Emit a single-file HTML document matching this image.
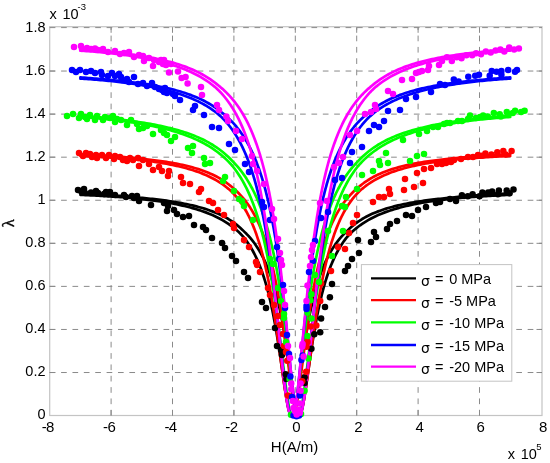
<!DOCTYPE html>
<html><head><meta charset="utf-8"><style>
html,body{margin:0;padding:0;background:#fff;}
svg{display:block;}
</style></head><body>
<svg width="550" height="463" viewBox="0 0 550 463">
<rect width="550" height="463" fill="#fff"/>
<rect x="49.70" y="26.70" width="492.30" height="388.80" fill="none" stroke="#c4c4c4" stroke-width="1.2"/><path d="M111.10,415.50 v-5.5 M111.10,27.30 v5.5 M172.50,415.50 v-5.5 M172.50,27.30 v5.5 M233.90,415.50 v-5.5 M233.90,27.30 v5.5 M295.30,415.50 v-5.5 M295.30,27.30 v5.5 M356.70,415.50 v-5.5 M356.70,27.30 v5.5 M418.10,415.50 v-5.5 M418.10,27.30 v5.5 M479.50,415.50 v-5.5 M479.50,27.30 v5.5 M49.70,372.53 h5.5 M542.00,372.53 h-5.5 M49.70,329.46 h5.5 M542.00,329.46 h-5.5 M49.70,286.39 h5.5 M542.00,286.39 h-5.5 M49.70,243.32 h5.5 M542.00,243.32 h-5.5 M49.70,200.25 h5.5 M542.00,200.25 h-5.5 M49.70,157.18 h5.5 M542.00,157.18 h-5.5 M49.70,114.11 h5.5 M542.00,114.11 h-5.5 M49.70,71.04 h5.5 M542.00,71.04 h-5.5" stroke="#8a8a8a" stroke-width="1" fill="none"/>
<path d="M111.10,415.50 V27.30 M172.50,415.50 V27.30 M233.90,415.50 V27.30 M295.30,415.50 V27.30 M356.70,415.50 V27.30 M418.10,415.50 V27.30 M479.50,415.50 V27.30" stroke="#8a8a8a" stroke-width="1" stroke-dasharray="5.7,5.64" fill="none"/><path d="M49.70,372.53 H542.00 M49.70,329.46 H542.00 M49.70,286.39 H542.00 M49.70,243.32 H542.00 M49.70,200.25 H542.00 M49.70,157.18 H542.00 M49.70,114.11 H542.00 M49.70,71.04 H542.00 M49.70,27.60 H542.00" stroke="#8a8a8a" stroke-width="1" stroke-dasharray="5.69,5.69" fill="none"/>
<g fill="none" stroke-width="2.7" stroke-linejoin="round" stroke-linecap="round"><path d="M80.40,194.81 L82.40,194.90 L84.40,194.99 L86.40,195.09 L88.40,195.18 L90.40,195.28 L92.40,195.38 L94.40,195.49 L96.41,195.59 L98.41,195.70 L100.41,195.81 L102.41,195.93 L104.41,196.04 L106.41,196.17 L108.41,196.29 L110.41,196.42 L112.41,196.55 L114.41,196.68 L116.41,196.82 L118.41,196.96 L120.41,197.10 L122.41,197.25 L124.41,197.41 L126.42,197.56 L128.42,197.73 L130.42,197.89 L132.42,198.07 L134.42,198.24 L136.42,198.43 L138.42,198.62 L140.42,198.84 L142.42,199.07 L144.42,199.30 L146.42,199.55 L148.42,199.79 L150.42,200.05 L152.42,200.31 L154.42,200.59 L156.43,200.87 L158.43,201.16 L160.43,201.46 L162.43,201.77 L164.43,202.09 L166.43,202.42 L168.43,202.77 L170.43,203.13 L172.43,203.50 L174.43,203.88 L176.43,204.28 L178.43,204.69 L180.43,205.12 L182.43,205.56 L184.44,206.03 L186.44,206.51 L188.44,207.01 L190.44,207.53 L192.44,208.08 L194.44,208.65 L196.44,209.24 L198.44,209.86 L200.44,210.50 L202.44,211.18 L204.44,211.89 L206.44,212.63 L208.44,213.41 L210.44,214.23 L212.44,215.09 L214.45,215.99 L216.45,216.94 L218.45,217.94 L220.45,219.00 L222.45,220.11 L224.45,221.30 L226.45,222.55 L228.45,223.87 L230.45,225.28 L232.45,226.78 L234.45,228.35 L236.45,229.99 L238.45,231.77 L240.45,233.72 L242.45,235.84 L244.46,238.18 L246.46,240.83 L248.46,243.70 L250.46,246.84 L252.46,250.25 L254.46,254.00 L256.46,258.10 L258.46,262.61 L258.79,263.40 L259.12,264.21 L259.46,265.03 L259.79,265.86 L260.12,266.70 L260.45,267.56 L260.78,268.43 L261.11,269.32 L261.45,270.22 L261.78,271.14 L262.11,272.07 L262.44,273.02 L262.77,273.99 L263.11,274.97 L263.44,275.97 L263.77,276.98 L264.10,278.01 L264.43,279.06 L264.76,280.13 L265.10,281.22 L265.43,282.33 L265.76,283.45 L266.09,284.60 L266.42,285.76 L266.76,286.95 L267.09,288.15 L267.42,289.38 L267.75,290.63 L268.08,291.90 L268.41,293.19 L268.75,294.51 L269.08,295.84 L269.41,297.21 L269.74,298.59 L270.07,300.00 L270.41,301.44 L270.74,302.90 L271.07,304.38 L271.40,305.89 L271.73,307.43 L272.06,308.99 L272.40,310.59 L272.73,312.20 L273.06,313.85 L273.39,315.52 L273.72,317.22 L274.05,318.95 L274.39,320.71 L274.72,322.50 L275.05,324.31 L275.38,326.15 L275.71,328.03 L276.05,329.93 L276.38,331.86 L276.71,333.82 L277.04,335.81 L277.37,337.82 L277.70,339.86 L278.04,341.93 L278.37,344.03 L278.70,346.15 L279.03,348.30 L279.36,350.47 L279.70,352.67 L280.03,354.89 L280.36,357.12 L280.69,359.38 L281.02,361.65 L281.35,363.94 L281.69,366.24 L282.02,368.55 L282.35,370.86 L282.68,373.18 L283.01,375.50 L283.35,377.82 L283.68,380.13 L284.01,382.43 L284.34,384.71 L284.67,386.97 L285.00,389.20 L285.34,391.40 L285.67,393.55 L286.00,395.66 L286.33,397.71 L286.66,399.70 L287.00,401.62 L287.33,403.45 L287.66,405.20 L287.99,406.85 L288.32,408.38 L288.65,409.80 L288.99,411.09 L289.32,412.23 L289.65,413.23 L289.98,414.06 L290.31,414.73 L290.65,415.21 L290.98,415.50 L291.31,415.60 L292.84,415.60 L293.24,415.38 L293.64,414.76 L294.03,413.75 L294.43,412.42 L294.83,410.78 L295.23,408.89 L295.62,406.78 L296.02,404.48 L296.42,402.02 L296.81,399.42 L297.21,396.72 L297.61,393.93 L298.00,391.07 L298.40,388.17 L298.80,385.22 L299.19,382.26 L299.59,379.28 L299.99,376.31 L300.39,373.34 L300.78,370.39 L301.18,367.46 L301.58,364.55 L301.97,361.68 L302.37,358.84 L302.77,356.05 L303.16,353.29 L303.56,350.58 L303.96,347.91 L304.35,345.29 L304.75,342.71 L305.15,340.18 L305.55,337.71 L305.94,335.27 L306.34,332.89 L306.74,330.56 L307.13,328.27 L307.53,326.03 L307.93,323.84 L308.32,321.70 L308.72,319.60 L309.12,317.54 L309.52,315.53 L309.91,313.56 L310.31,311.64 L310.71,309.76 L311.10,307.91 L311.50,306.11 L311.90,304.35 L312.29,302.62 L312.69,300.93 L313.09,299.28 L313.48,297.67 L313.88,296.09 L314.28,294.54 L314.68,293.03 L315.07,291.54 L315.47,290.09 L315.87,288.67 L316.26,287.29 L316.66,285.92 L317.06,284.59 L317.45,283.29 L317.85,282.01 L318.25,280.76 L318.64,279.53 L319.04,278.33 L319.44,277.16 L319.84,276.00 L320.23,274.87 L320.63,273.77 L321.03,272.68 L321.42,271.62 L321.82,270.57 L322.22,269.55 L322.61,268.55 L323.01,267.56 L323.41,266.60 L323.80,265.65 L324.20,264.72 L324.60,263.81 L325.00,262.92 L325.39,262.04 L325.79,261.18 L326.19,260.33 L326.58,259.50 L326.98,258.68 L327.38,257.88 L327.77,257.10 L328.17,256.32 L328.57,255.57 L328.96,254.82 L329.36,254.09 L329.76,253.37 L330.16,252.66 L330.55,251.97 L330.95,251.28 L331.35,250.61 L331.74,249.95 L332.14,249.30 L334.14,246.18 L336.14,243.31 L338.14,240.66 L340.14,238.21 L342.14,235.93 L344.14,233.82 L346.14,231.84 L348.15,229.90 L350.15,228.06 L352.15,226.30 L354.15,224.63 L356.15,223.05 L358.15,221.61 L360.15,220.28 L362.15,219.04 L364.15,217.87 L366.15,216.77 L368.15,215.74 L370.15,214.77 L372.15,213.85 L374.15,212.98 L376.15,212.16 L378.16,211.38 L380.16,210.65 L382.16,209.95 L384.16,209.28 L386.16,208.65 L388.16,208.05 L390.16,207.47 L392.16,206.93 L394.16,206.40 L396.16,205.91 L398.16,205.43 L400.16,204.97 L402.16,204.53 L404.16,204.11 L406.16,203.71 L408.17,203.32 L410.17,202.95 L412.17,202.59 L414.17,202.25 L416.17,201.92 L418.17,201.60 L420.17,201.29 L422.17,200.99 L424.17,200.71 L426.17,200.43 L428.17,200.16 L430.17,199.91 L432.17,199.66 L434.17,199.42 L436.18,199.18 L438.18,198.96 L440.18,198.74 L442.18,198.52 L444.18,198.32 L446.18,198.12 L448.18,197.92 L450.18,197.73 L452.18,197.55 L454.18,197.35 L456.18,197.16 L458.18,196.96 L460.18,196.78 L462.18,196.59 L464.18,196.42 L466.19,196.24 L468.19,196.07 L470.19,195.91 L472.19,195.75 L474.19,195.59 L476.19,195.44 L478.19,195.29 L480.19,195.14 L482.19,195.00 L484.19,194.86 L486.19,194.72 L488.19,194.59 L490.19,194.46 L492.19,194.33 L494.19,194.21 L496.20,194.08 L498.20,193.96 L500.20,193.85 L502.20,193.73 L504.20,193.62 L506.20,193.51 L508.20,193.40 L510.20,193.30" stroke="#000000" /><path d="M510.20,194.81 L508.20,194.90 L506.20,194.99 L504.20,195.09 L502.20,195.18 L500.20,195.28 L498.20,195.38 L496.20,195.49 L494.19,195.59 L492.19,195.70 L490.19,195.81 L488.19,195.93 L486.19,196.04 L484.19,196.17 L482.19,196.29 L480.19,196.42 L478.19,196.55 L476.19,196.68 L474.19,196.82 L472.19,196.96 L470.19,197.10 L468.19,197.25 L466.19,197.41 L464.18,197.56 L462.18,197.73 L460.18,197.89 L458.18,198.07 L456.18,198.24 L454.18,198.43 L452.18,198.62 L450.18,198.84 L448.18,199.07 L446.18,199.30 L444.18,199.55 L442.18,199.79 L440.18,200.05 L438.18,200.31 L436.18,200.59 L434.17,200.87 L432.17,201.16 L430.17,201.46 L428.17,201.77 L426.17,202.09 L424.17,202.42 L422.17,202.77 L420.17,203.13 L418.17,203.50 L416.17,203.88 L414.17,204.28 L412.17,204.69 L410.17,205.12 L408.17,205.56 L406.16,206.03 L404.16,206.51 L402.16,207.01 L400.16,207.53 L398.16,208.08 L396.16,208.65 L394.16,209.24 L392.16,209.86 L390.16,210.50 L388.16,211.18 L386.16,211.89 L384.16,212.63 L382.16,213.41 L380.16,214.23 L378.16,215.09 L376.15,215.99 L374.15,216.94 L372.15,217.94 L370.15,219.00 L368.15,220.11 L366.15,221.30 L364.15,222.55 L362.15,223.87 L360.15,225.28 L358.15,226.78 L356.15,228.35 L354.15,229.99 L352.15,231.77 L350.15,233.72 L348.15,235.84 L346.14,238.18 L344.14,240.83 L342.14,243.70 L340.14,246.84 L338.14,250.25 L336.14,254.00 L334.14,258.10 L332.14,262.61 L331.81,263.40 L331.48,264.21 L331.14,265.03 L330.81,265.86 L330.48,266.70 L330.15,267.56 L329.82,268.43 L329.49,269.32 L329.15,270.22 L328.82,271.14 L328.49,272.07 L328.16,273.02 L327.83,273.99 L327.49,274.97 L327.16,275.97 L326.83,276.98 L326.50,278.01 L326.17,279.06 L325.84,280.13 L325.50,281.22 L325.17,282.33 L324.84,283.45 L324.51,284.60 L324.18,285.76 L323.84,286.95 L323.51,288.15 L323.18,289.38 L322.85,290.63 L322.52,291.90 L322.19,293.19 L321.85,294.51 L321.52,295.84 L321.19,297.21 L320.86,298.59 L320.53,300.00 L320.19,301.44 L319.86,302.90 L319.53,304.38 L319.20,305.89 L318.87,307.43 L318.54,308.99 L318.20,310.59 L317.87,312.20 L317.54,313.85 L317.21,315.52 L316.88,317.22 L316.55,318.95 L316.21,320.71 L315.88,322.50 L315.55,324.31 L315.22,326.15 L314.89,328.03 L314.55,329.93 L314.22,331.86 L313.89,333.82 L313.56,335.81 L313.23,337.82 L312.90,339.86 L312.56,341.93 L312.23,344.03 L311.90,346.15 L311.57,348.30 L311.24,350.47 L310.90,352.67 L310.57,354.89 L310.24,357.12 L309.91,359.38 L309.58,361.65 L309.25,363.94 L308.91,366.24 L308.58,368.55 L308.25,370.86 L307.92,373.18 L307.59,375.50 L307.25,377.82 L306.92,380.13 L306.59,382.43 L306.26,384.71 L305.93,386.97 L305.60,389.20 L305.26,391.40 L304.93,393.55 L304.60,395.66 L304.27,397.71 L303.94,399.70 L303.60,401.62 L303.27,403.45 L302.94,405.20 L302.61,406.85 L302.28,408.38 L301.95,409.80 L301.61,411.09 L301.28,412.23 L300.95,413.23 L300.62,414.06 L300.29,414.73 L299.95,415.21 L299.62,415.50 L299.29,415.60 L297.76,415.60 L297.36,415.38 L296.96,414.76 L296.57,413.75 L296.17,412.42 L295.77,410.78 L295.37,408.89 L294.98,406.78 L294.58,404.48 L294.18,402.02 L293.79,399.42 L293.39,396.72 L292.99,393.93 L292.60,391.07 L292.20,388.17 L291.80,385.22 L291.41,382.26 L291.01,379.28 L290.61,376.31 L290.21,373.34 L289.82,370.39 L289.42,367.46 L289.02,364.55 L288.63,361.68 L288.23,358.84 L287.83,356.05 L287.44,353.29 L287.04,350.58 L286.64,347.91 L286.25,345.29 L285.85,342.71 L285.45,340.18 L285.05,337.71 L284.66,335.27 L284.26,332.89 L283.86,330.56 L283.47,328.27 L283.07,326.03 L282.67,323.84 L282.28,321.70 L281.88,319.60 L281.48,317.54 L281.08,315.53 L280.69,313.56 L280.29,311.64 L279.89,309.76 L279.50,307.91 L279.10,306.11 L278.70,304.35 L278.31,302.62 L277.91,300.93 L277.51,299.28 L277.12,297.67 L276.72,296.09 L276.32,294.54 L275.92,293.03 L275.53,291.54 L275.13,290.09 L274.73,288.67 L274.34,287.29 L273.94,285.92 L273.54,284.59 L273.15,283.29 L272.75,282.01 L272.35,280.76 L271.96,279.53 L271.56,278.33 L271.16,277.16 L270.76,276.00 L270.37,274.87 L269.97,273.77 L269.57,272.68 L269.18,271.62 L268.78,270.57 L268.38,269.55 L267.99,268.55 L267.59,267.56 L267.19,266.60 L266.80,265.65 L266.40,264.72 L266.00,263.81 L265.60,262.92 L265.21,262.04 L264.81,261.18 L264.41,260.33 L264.02,259.50 L263.62,258.68 L263.22,257.88 L262.83,257.10 L262.43,256.32 L262.03,255.57 L261.64,254.82 L261.24,254.09 L260.84,253.37 L260.44,252.66 L260.05,251.97 L259.65,251.28 L259.25,250.61 L258.86,249.95 L258.46,249.30 L256.46,246.18 L254.46,243.31 L252.46,240.66 L250.46,238.21 L248.46,235.93 L246.46,233.82 L244.46,231.84 L242.45,229.90 L240.45,228.06 L238.45,226.30 L236.45,224.63 L234.45,223.05 L232.45,221.61 L230.45,220.28 L228.45,219.04 L226.45,217.87 L224.45,216.77 L222.45,215.74 L220.45,214.77 L218.45,213.85 L216.45,212.98 L214.45,212.16 L212.44,211.38 L210.44,210.65 L208.44,209.95 L206.44,209.28 L204.44,208.65 L202.44,208.05 L200.44,207.47 L198.44,206.93 L196.44,206.40 L194.44,205.91 L192.44,205.43 L190.44,204.97 L188.44,204.53 L186.44,204.11 L184.44,203.71 L182.43,203.32 L180.43,202.95 L178.43,202.59 L176.43,202.25 L174.43,201.92 L172.43,201.60 L170.43,201.29 L168.43,200.99 L166.43,200.71 L164.43,200.43 L162.43,200.16 L160.43,199.91 L158.43,199.66 L156.43,199.42 L154.42,199.18 L152.42,198.96 L150.42,198.74 L148.42,198.52 L146.42,198.32 L144.42,198.12 L142.42,197.92 L140.42,197.73 L138.42,197.55 L136.42,197.35 L134.42,197.16 L132.42,196.96 L130.42,196.78 L128.42,196.59 L126.42,196.42 L124.41,196.24 L122.41,196.07 L120.41,195.91 L118.41,195.75 L116.41,195.59 L114.41,195.44 L112.41,195.29 L110.41,195.14 L108.41,195.00 L106.41,194.86 L104.41,194.72 L102.41,194.59 L100.41,194.46 L98.41,194.33 L96.41,194.21 L94.40,194.08 L92.40,193.96 L90.40,193.85 L88.40,193.73 L86.40,193.62 L84.40,193.51 L82.40,193.40 L80.40,193.30" stroke="#000000" /><path d="M80.40,155.94 L82.40,156.03 L84.40,156.12 L86.40,156.21 L88.40,156.31 L90.40,156.41 L92.40,156.51 L94.40,156.61 L96.41,156.72 L98.41,156.83 L100.41,156.94 L102.41,157.05 L104.41,157.17 L106.41,157.29 L108.41,157.42 L110.41,157.55 L112.41,157.68 L114.41,157.82 L116.41,157.96 L118.41,158.10 L120.41,158.25 L122.41,158.41 L124.41,158.56 L126.42,158.73 L128.42,158.90 L130.42,159.07 L132.42,159.25 L134.42,159.44 L136.42,159.63 L138.42,159.83 L140.42,160.04 L142.42,160.25 L144.42,160.47 L146.42,160.70 L148.42,160.96 L150.42,161.23 L152.42,161.52 L154.42,161.81 L156.43,162.11 L158.43,162.42 L160.43,162.74 L162.43,163.08 L164.43,163.42 L166.43,163.79 L168.43,164.16 L170.43,164.55 L172.43,164.95 L174.43,165.38 L176.43,165.81 L178.43,166.27 L180.43,166.75 L182.43,167.24 L184.44,167.76 L186.44,168.30 L188.44,168.86 L190.44,169.45 L192.44,170.07 L194.44,170.72 L196.44,171.39 L198.44,172.10 L200.44,172.85 L202.44,173.63 L204.44,174.45 L206.44,175.32 L208.44,176.23 L210.44,177.20 L212.44,178.21 L214.45,179.28 L216.45,180.42 L218.45,181.62 L220.45,182.90 L222.45,184.25 L224.45,185.69 L226.45,187.22 L228.45,188.85 L230.45,190.60 L232.45,192.48 L234.45,194.63 L236.45,196.94 L238.45,199.44 L240.45,202.15 L242.45,205.08 L244.46,208.27 L246.46,211.74 L248.46,215.52 L250.46,219.65 L252.46,224.18 L254.46,229.13 L256.46,234.57 L258.46,240.56 L258.80,241.62 L259.14,242.71 L259.47,243.81 L259.81,244.93 L260.15,246.07 L260.49,247.23 L260.83,248.41 L261.16,249.61 L261.50,250.82 L261.84,252.06 L262.18,253.32 L262.52,254.60 L262.85,255.89 L263.19,257.21 L263.53,258.56 L263.87,259.92 L264.21,261.31 L264.54,262.72 L264.88,264.15 L265.22,265.61 L265.56,267.08 L265.90,268.59 L266.23,270.12 L266.57,271.67 L266.91,273.25 L267.25,274.85 L267.59,276.48 L267.92,278.13 L268.26,279.82 L268.60,281.52 L268.94,283.26 L269.28,285.02 L269.61,286.81 L269.95,288.62 L270.29,290.46 L270.63,292.34 L270.97,294.23 L271.30,296.16 L271.64,298.11 L271.98,300.10 L272.32,302.10 L272.66,304.14 L272.99,306.21 L273.33,308.30 L273.67,310.42 L274.01,312.56 L274.35,314.74 L274.68,316.94 L275.02,319.16 L275.36,321.41 L275.70,323.68 L276.04,325.98 L276.37,328.30 L276.71,330.65 L277.05,333.01 L277.39,335.39 L277.73,337.79 L278.06,340.21 L278.40,342.65 L278.74,345.10 L279.08,347.56 L279.42,350.03 L279.75,352.50 L280.09,354.99 L280.43,357.48 L280.77,359.97 L281.11,362.45 L281.44,364.93 L281.78,367.41 L282.12,369.87 L282.46,372.32 L282.80,374.75 L283.13,377.15 L283.47,379.53 L283.81,381.88 L284.15,384.19 L284.49,386.46 L284.82,388.69 L285.16,390.87 L285.50,392.99 L285.84,395.05 L286.18,397.04 L286.51,398.97 L286.85,400.81 L287.19,402.58 L287.53,404.25 L287.87,405.83 L288.20,407.31 L288.54,408.69 L288.88,409.95 L289.22,411.10 L289.56,412.13 L289.89,413.04 L290.23,413.81 L290.57,414.45 L290.91,414.95 L291.25,415.31 L291.58,415.53 L291.92,415.60 L292.84,415.60 L293.24,415.46 L293.64,415.05 L294.03,414.37 L294.43,413.44 L294.83,412.27 L295.23,410.87 L295.62,409.27 L296.02,407.47 L296.42,405.49 L296.81,403.35 L297.21,401.06 L297.61,398.64 L298.00,396.10 L298.40,393.45 L298.80,390.72 L299.19,387.91 L299.59,385.02 L299.99,382.09 L300.39,379.10 L300.78,376.09 L301.18,373.04 L301.58,369.97 L301.97,366.89 L302.37,363.81 L302.77,360.72 L303.16,357.65 L303.56,354.58 L303.96,351.53 L304.35,348.50 L304.75,345.49 L305.15,342.51 L305.55,339.55 L305.94,336.63 L306.34,333.75 L306.74,330.90 L307.13,328.08 L307.53,325.31 L307.93,322.57 L308.32,319.88 L308.72,317.23 L309.12,314.61 L309.52,312.05 L309.91,309.52 L310.31,307.04 L310.71,304.60 L311.10,302.20 L311.50,299.84 L311.90,297.53 L312.29,295.26 L312.69,293.03 L313.09,290.85 L313.48,288.70 L313.88,286.59 L314.28,284.53 L314.68,282.50 L315.07,280.51 L315.47,278.56 L315.87,276.65 L316.26,274.78 L316.66,272.94 L317.06,271.14 L317.45,269.37 L317.85,267.63 L318.25,265.93 L318.64,264.27 L319.04,262.63 L319.44,261.03 L319.84,259.46 L320.23,257.92 L320.63,256.40 L321.03,254.92 L321.42,253.47 L321.82,252.04 L322.22,250.64 L322.61,249.27 L323.01,247.93 L323.41,246.61 L323.80,245.31 L324.20,244.04 L324.60,242.79 L325.00,241.57 L325.39,240.37 L325.79,239.19 L326.19,238.04 L326.58,236.90 L326.98,235.79 L327.38,234.69 L327.77,233.62 L328.17,232.57 L328.57,231.53 L328.96,230.52 L329.36,229.52 L329.76,228.54 L330.16,227.58 L330.55,226.63 L330.95,225.70 L331.35,224.79 L331.74,223.89 L332.14,223.01 L334.14,218.80 L336.14,214.93 L338.14,211.38 L340.14,208.11 L342.14,205.09 L344.14,202.29 L346.14,199.70 L348.15,197.30 L350.15,195.07 L352.15,192.98 L354.15,191.04 L356.15,189.23 L358.15,187.53 L360.15,185.83 L362.15,184.22 L364.15,182.72 L366.15,181.32 L368.15,180.01 L370.15,178.78 L372.15,177.63 L374.15,176.54 L376.15,175.52 L378.16,174.56 L380.16,173.65 L382.16,172.79 L384.16,171.98 L386.16,171.21 L388.16,170.48 L390.16,169.79 L392.16,169.13 L394.16,168.51 L396.16,167.92 L398.16,167.35 L400.16,166.82 L402.16,166.30 L404.16,165.81 L406.16,165.35 L408.17,164.90 L410.17,164.47 L412.17,164.06 L414.17,163.67 L416.17,163.29 L418.17,162.93 L420.17,162.59 L422.17,162.26 L424.17,161.94 L426.17,161.63 L428.17,161.33 L430.17,161.05 L432.17,160.78 L434.17,160.51 L436.18,160.26 L438.18,160.01 L440.18,159.78 L442.18,159.55 L444.18,159.33 L446.18,159.09 L448.18,158.86 L450.18,158.63 L452.18,158.42 L454.18,158.20 L456.18,158.00 L458.18,157.80 L460.18,157.61 L462.18,157.42 L464.18,157.24 L466.19,157.06 L468.19,156.89 L470.19,156.72 L472.19,156.56 L474.19,156.40 L476.19,156.25 L478.19,156.10 L480.19,155.95 L482.19,155.81 L484.19,155.67 L486.19,155.53 L488.19,155.40 L490.19,155.27 L492.19,155.14 L494.19,155.02 L496.20,154.90 L498.20,154.79 L500.20,154.67 L502.20,154.56 L504.20,154.45 L506.20,154.34 L508.20,154.24 L510.20,154.14" stroke="#ff0000" /><path d="M510.20,155.94 L508.20,156.03 L506.20,156.12 L504.20,156.21 L502.20,156.31 L500.20,156.41 L498.20,156.51 L496.20,156.61 L494.19,156.72 L492.19,156.83 L490.19,156.94 L488.19,157.05 L486.19,157.17 L484.19,157.29 L482.19,157.42 L480.19,157.55 L478.19,157.68 L476.19,157.82 L474.19,157.96 L472.19,158.10 L470.19,158.25 L468.19,158.41 L466.19,158.56 L464.18,158.73 L462.18,158.90 L460.18,159.07 L458.18,159.25 L456.18,159.44 L454.18,159.63 L452.18,159.83 L450.18,160.04 L448.18,160.25 L446.18,160.47 L444.18,160.70 L442.18,160.96 L440.18,161.23 L438.18,161.52 L436.18,161.81 L434.17,162.11 L432.17,162.42 L430.17,162.74 L428.17,163.08 L426.17,163.42 L424.17,163.79 L422.17,164.16 L420.17,164.55 L418.17,164.95 L416.17,165.38 L414.17,165.81 L412.17,166.27 L410.17,166.75 L408.17,167.24 L406.16,167.76 L404.16,168.30 L402.16,168.86 L400.16,169.45 L398.16,170.07 L396.16,170.72 L394.16,171.39 L392.16,172.10 L390.16,172.85 L388.16,173.63 L386.16,174.45 L384.16,175.32 L382.16,176.23 L380.16,177.20 L378.16,178.21 L376.15,179.28 L374.15,180.42 L372.15,181.62 L370.15,182.90 L368.15,184.25 L366.15,185.69 L364.15,187.22 L362.15,188.85 L360.15,190.60 L358.15,192.48 L356.15,194.63 L354.15,196.94 L352.15,199.44 L350.15,202.15 L348.15,205.08 L346.14,208.27 L344.14,211.74 L342.14,215.52 L340.14,219.65 L338.14,224.18 L336.14,229.13 L334.14,234.57 L332.14,240.56 L331.80,241.62 L331.46,242.71 L331.13,243.81 L330.79,244.93 L330.45,246.07 L330.11,247.23 L329.77,248.41 L329.44,249.61 L329.10,250.82 L328.76,252.06 L328.42,253.32 L328.08,254.60 L327.75,255.89 L327.41,257.21 L327.07,258.56 L326.73,259.92 L326.39,261.31 L326.06,262.72 L325.72,264.15 L325.38,265.61 L325.04,267.08 L324.70,268.59 L324.37,270.12 L324.03,271.67 L323.69,273.25 L323.35,274.85 L323.01,276.48 L322.68,278.13 L322.34,279.82 L322.00,281.52 L321.66,283.26 L321.32,285.02 L320.99,286.81 L320.65,288.62 L320.31,290.46 L319.97,292.34 L319.63,294.23 L319.30,296.16 L318.96,298.11 L318.62,300.10 L318.28,302.10 L317.94,304.14 L317.61,306.21 L317.27,308.30 L316.93,310.42 L316.59,312.56 L316.25,314.74 L315.92,316.94 L315.58,319.16 L315.24,321.41 L314.90,323.68 L314.56,325.98 L314.23,328.30 L313.89,330.65 L313.55,333.01 L313.21,335.39 L312.87,337.79 L312.54,340.21 L312.20,342.65 L311.86,345.10 L311.52,347.56 L311.18,350.03 L310.85,352.50 L310.51,354.99 L310.17,357.48 L309.83,359.97 L309.49,362.45 L309.16,364.93 L308.82,367.41 L308.48,369.87 L308.14,372.32 L307.80,374.75 L307.47,377.15 L307.13,379.53 L306.79,381.88 L306.45,384.19 L306.11,386.46 L305.78,388.69 L305.44,390.87 L305.10,392.99 L304.76,395.05 L304.42,397.04 L304.09,398.97 L303.75,400.81 L303.41,402.58 L303.07,404.25 L302.73,405.83 L302.40,407.31 L302.06,408.69 L301.72,409.95 L301.38,411.10 L301.04,412.13 L300.71,413.04 L300.37,413.81 L300.03,414.45 L299.69,414.95 L299.35,415.31 L299.02,415.53 L298.68,415.60 L297.76,415.60 L297.36,415.46 L296.96,415.05 L296.57,414.37 L296.17,413.44 L295.77,412.27 L295.37,410.87 L294.98,409.27 L294.58,407.47 L294.18,405.49 L293.79,403.35 L293.39,401.06 L292.99,398.64 L292.60,396.10 L292.20,393.45 L291.80,390.72 L291.41,387.91 L291.01,385.02 L290.61,382.09 L290.21,379.10 L289.82,376.09 L289.42,373.04 L289.02,369.97 L288.63,366.89 L288.23,363.81 L287.83,360.72 L287.44,357.65 L287.04,354.58 L286.64,351.53 L286.25,348.50 L285.85,345.49 L285.45,342.51 L285.05,339.55 L284.66,336.63 L284.26,333.75 L283.86,330.90 L283.47,328.08 L283.07,325.31 L282.67,322.57 L282.28,319.88 L281.88,317.23 L281.48,314.61 L281.08,312.05 L280.69,309.52 L280.29,307.04 L279.89,304.60 L279.50,302.20 L279.10,299.84 L278.70,297.53 L278.31,295.26 L277.91,293.03 L277.51,290.85 L277.12,288.70 L276.72,286.59 L276.32,284.53 L275.92,282.50 L275.53,280.51 L275.13,278.56 L274.73,276.65 L274.34,274.78 L273.94,272.94 L273.54,271.14 L273.15,269.37 L272.75,267.63 L272.35,265.93 L271.96,264.27 L271.56,262.63 L271.16,261.03 L270.76,259.46 L270.37,257.92 L269.97,256.40 L269.57,254.92 L269.18,253.47 L268.78,252.04 L268.38,250.64 L267.99,249.27 L267.59,247.93 L267.19,246.61 L266.80,245.31 L266.40,244.04 L266.00,242.79 L265.60,241.57 L265.21,240.37 L264.81,239.19 L264.41,238.04 L264.02,236.90 L263.62,235.79 L263.22,234.69 L262.83,233.62 L262.43,232.57 L262.03,231.53 L261.64,230.52 L261.24,229.52 L260.84,228.54 L260.44,227.58 L260.05,226.63 L259.65,225.70 L259.25,224.79 L258.86,223.89 L258.46,223.01 L256.46,218.80 L254.46,214.93 L252.46,211.38 L250.46,208.11 L248.46,205.09 L246.46,202.29 L244.46,199.70 L242.45,197.30 L240.45,195.07 L238.45,192.98 L236.45,191.04 L234.45,189.23 L232.45,187.53 L230.45,185.83 L228.45,184.22 L226.45,182.72 L224.45,181.32 L222.45,180.01 L220.45,178.78 L218.45,177.63 L216.45,176.54 L214.45,175.52 L212.44,174.56 L210.44,173.65 L208.44,172.79 L206.44,171.98 L204.44,171.21 L202.44,170.48 L200.44,169.79 L198.44,169.13 L196.44,168.51 L194.44,167.92 L192.44,167.35 L190.44,166.82 L188.44,166.30 L186.44,165.81 L184.44,165.35 L182.43,164.90 L180.43,164.47 L178.43,164.06 L176.43,163.67 L174.43,163.29 L172.43,162.93 L170.43,162.59 L168.43,162.26 L166.43,161.94 L164.43,161.63 L162.43,161.33 L160.43,161.05 L158.43,160.78 L156.43,160.51 L154.42,160.26 L152.42,160.01 L150.42,159.78 L148.42,159.55 L146.42,159.33 L144.42,159.09 L142.42,158.86 L140.42,158.63 L138.42,158.42 L136.42,158.20 L134.42,158.00 L132.42,157.80 L130.42,157.61 L128.42,157.42 L126.42,157.24 L124.41,157.06 L122.41,156.89 L120.41,156.72 L118.41,156.56 L116.41,156.40 L114.41,156.25 L112.41,156.10 L110.41,155.95 L108.41,155.81 L106.41,155.67 L104.41,155.53 L102.41,155.40 L100.41,155.27 L98.41,155.14 L96.41,155.02 L94.40,154.90 L92.40,154.79 L90.40,154.67 L88.40,154.56 L86.40,154.45 L84.40,154.34 L82.40,154.24 L80.40,154.14" stroke="#ff0000" /><path d="M80.40,116.90 L82.40,117.05 L84.40,117.20 L86.40,117.35 L88.40,117.51 L90.40,117.67 L92.40,117.84 L94.40,118.01 L96.41,118.18 L98.41,118.36 L100.41,118.54 L102.41,118.73 L104.41,118.92 L106.41,119.11 L108.41,119.31 L110.41,119.52 L112.41,119.73 L114.41,119.97 L116.41,120.21 L118.41,120.46 L120.41,120.72 L122.41,120.99 L124.41,121.26 L126.42,121.54 L128.42,121.83 L130.42,122.13 L132.42,122.43 L134.42,122.74 L136.42,123.07 L138.42,123.40 L140.42,123.74 L142.42,124.09 L144.42,124.45 L146.42,124.82 L148.42,125.20 L150.42,125.60 L152.42,126.00 L154.42,126.42 L156.43,126.86 L158.43,127.30 L160.43,127.77 L162.43,128.24 L164.43,128.74 L166.43,129.25 L168.43,129.77 L170.43,130.32 L172.43,130.89 L174.43,131.47 L176.43,132.08 L178.43,132.71 L180.43,133.36 L182.43,134.04 L184.44,134.75 L186.44,135.48 L188.44,136.24 L190.44,137.04 L192.44,137.86 L194.44,138.73 L196.44,139.62 L198.44,140.56 L200.44,141.54 L202.44,142.56 L204.44,143.63 L206.44,144.75 L208.44,145.93 L210.44,147.16 L212.44,148.45 L214.45,149.81 L216.45,151.24 L218.45,152.74 L220.45,154.33 L222.45,156.00 L224.45,157.77 L226.45,159.63 L228.45,161.61 L230.45,163.71 L232.45,165.99 L234.45,168.53 L236.45,171.25 L238.45,174.16 L240.45,177.29 L242.45,180.65 L244.46,184.26 L246.46,188.16 L248.46,192.38 L250.46,196.94 L252.46,201.89 L254.46,207.26 L256.46,213.11 L258.46,219.49 L258.80,220.63 L259.14,221.79 L259.48,222.97 L259.82,224.17 L260.17,225.38 L260.51,226.62 L260.85,227.87 L261.19,229.14 L261.53,230.43 L261.87,231.74 L262.21,233.07 L262.55,234.43 L262.89,235.80 L263.24,237.20 L263.58,238.61 L263.92,240.05 L264.26,241.51 L264.60,243.00 L264.94,244.50 L265.28,246.03 L265.62,247.59 L265.96,249.17 L266.31,250.77 L266.65,252.40 L266.99,254.06 L267.33,255.74 L267.67,257.44 L268.01,259.18 L268.35,260.94 L268.69,262.73 L269.03,264.54 L269.38,266.39 L269.72,268.26 L270.06,270.16 L270.40,272.09 L270.74,274.05 L271.08,276.04 L271.42,278.06 L271.76,280.11 L272.10,282.20 L272.45,284.31 L272.79,286.45 L273.13,288.62 L273.47,290.83 L273.81,293.07 L274.15,295.33 L274.49,297.63 L274.83,299.97 L275.17,302.33 L275.52,304.72 L275.86,307.15 L276.20,309.60 L276.54,312.09 L276.88,314.60 L277.22,317.14 L277.56,319.72 L277.90,322.32 L278.24,324.94 L278.59,327.60 L278.93,330.27 L279.27,332.98 L279.61,335.70 L279.95,338.44 L280.29,341.21 L280.63,343.99 L280.97,346.78 L281.31,349.59 L281.66,352.40 L282.00,355.22 L282.34,358.05 L282.68,360.88 L283.02,363.70 L283.36,366.51 L283.70,369.32 L284.04,372.10 L284.38,374.87 L284.73,377.61 L285.07,380.31 L285.41,382.98 L285.75,385.60 L286.09,388.17 L286.43,390.68 L286.77,393.12 L287.11,395.49 L287.45,397.77 L287.80,399.96 L288.14,402.05 L288.48,404.03 L288.82,405.89 L289.16,407.61 L289.50,409.20 L289.84,410.63 L290.18,411.90 L290.52,413.00 L290.87,413.92 L291.21,414.64 L291.55,415.17 L291.89,415.49 L292.23,415.60 L292.84,415.60 L293.24,415.39 L293.64,414.76 L294.03,413.76 L294.43,412.41 L294.83,410.74 L295.23,408.78 L295.62,406.57 L296.02,404.13 L296.42,401.50 L296.81,398.70 L297.21,395.75 L297.61,392.67 L298.00,389.49 L298.40,386.22 L298.80,382.88 L299.19,379.49 L299.59,376.05 L299.99,372.58 L300.39,369.10 L300.78,365.60 L301.18,362.10 L301.58,358.61 L301.97,355.14 L302.37,351.68 L302.77,348.24 L303.16,344.84 L303.56,341.46 L303.96,338.12 L304.35,334.82 L304.75,331.56 L305.15,328.35 L305.55,325.17 L305.94,322.05 L306.34,318.97 L306.74,315.94 L307.13,312.95 L307.53,310.02 L307.93,307.13 L308.32,304.29 L308.72,301.50 L309.12,298.76 L309.52,296.07 L309.91,293.43 L310.31,290.83 L310.71,288.28 L311.10,285.78 L311.50,283.32 L311.90,280.91 L312.29,278.55 L312.69,276.23 L313.09,273.95 L313.48,271.71 L313.88,269.52 L314.28,267.37 L314.68,265.26 L315.07,263.19 L315.47,261.15 L315.87,259.16 L316.26,257.20 L316.66,255.28 L317.06,253.39 L317.45,251.54 L317.85,249.73 L318.25,247.95 L318.64,246.20 L319.04,244.48 L319.44,242.79 L319.84,241.14 L320.23,239.52 L320.63,237.92 L321.03,236.35 L321.42,234.82 L321.82,233.31 L322.22,231.82 L322.61,230.37 L323.01,228.94 L323.41,227.53 L323.80,226.15 L324.20,224.79 L324.60,223.46 L325.00,222.15 L325.39,220.86 L325.79,219.60 L326.19,218.35 L326.58,217.13 L326.98,215.93 L327.38,214.75 L327.77,213.58 L328.17,212.44 L328.57,211.32 L328.96,210.21 L329.36,209.13 L329.76,208.06 L330.16,207.01 L330.55,205.97 L330.95,204.95 L331.35,203.95 L331.74,202.96 L332.14,201.99 L334.14,197.33 L336.14,193.01 L338.14,189.01 L340.14,185.30 L342.14,181.84 L344.14,178.62 L346.14,175.60 L348.15,172.79 L350.15,170.15 L352.15,167.67 L354.15,165.34 L356.15,163.15 L358.15,161.08 L360.15,159.04 L362.15,157.06 L364.15,155.20 L366.15,153.45 L368.15,151.79 L370.15,150.23 L372.15,148.75 L374.15,147.35 L376.15,146.02 L378.16,144.76 L380.16,143.56 L382.16,142.42 L384.16,141.34 L386.16,140.31 L388.16,139.32 L390.16,138.38 L392.16,137.48 L394.16,136.62 L396.16,135.80 L398.16,135.02 L400.16,134.26 L402.16,133.54 L404.16,132.85 L406.16,132.18 L408.17,131.54 L410.17,130.93 L412.17,130.34 L414.17,129.77 L416.17,129.22 L418.17,128.69 L420.17,128.18 L422.17,127.69 L424.17,127.22 L426.17,126.76 L428.17,126.32 L430.17,125.89 L432.17,125.48 L434.17,125.08 L436.18,124.69 L438.18,124.31 L440.18,123.95 L442.18,123.60 L444.18,123.26 L446.18,122.93 L448.18,122.60 L450.18,122.29 L452.18,121.99 L454.18,121.69 L456.18,121.41 L458.18,121.13 L460.18,120.86 L462.18,120.60 L464.18,120.34 L466.19,120.09 L468.19,119.85 L470.19,119.61 L472.19,119.38 L474.19,119.16 L476.19,118.94 L478.19,118.71 L480.19,118.48 L482.19,118.26 L484.19,118.04 L486.19,117.83 L488.19,117.62 L490.19,117.41 L492.19,117.21 L494.19,117.01 L496.20,116.82 L498.20,116.63 L500.20,116.45 L502.20,116.27 L504.20,116.09 L506.20,115.92 L508.20,115.75 L510.20,115.58" stroke="#00ff00" /><path d="M510.20,116.90 L508.20,117.05 L506.20,117.20 L504.20,117.35 L502.20,117.51 L500.20,117.67 L498.20,117.84 L496.20,118.01 L494.19,118.18 L492.19,118.36 L490.19,118.54 L488.19,118.73 L486.19,118.92 L484.19,119.11 L482.19,119.31 L480.19,119.52 L478.19,119.73 L476.19,119.97 L474.19,120.21 L472.19,120.46 L470.19,120.72 L468.19,120.99 L466.19,121.26 L464.18,121.54 L462.18,121.83 L460.18,122.13 L458.18,122.43 L456.18,122.74 L454.18,123.07 L452.18,123.40 L450.18,123.74 L448.18,124.09 L446.18,124.45 L444.18,124.82 L442.18,125.20 L440.18,125.60 L438.18,126.00 L436.18,126.42 L434.17,126.86 L432.17,127.30 L430.17,127.77 L428.17,128.24 L426.17,128.74 L424.17,129.25 L422.17,129.77 L420.17,130.32 L418.17,130.89 L416.17,131.47 L414.17,132.08 L412.17,132.71 L410.17,133.36 L408.17,134.04 L406.16,134.75 L404.16,135.48 L402.16,136.24 L400.16,137.04 L398.16,137.86 L396.16,138.73 L394.16,139.62 L392.16,140.56 L390.16,141.54 L388.16,142.56 L386.16,143.63 L384.16,144.75 L382.16,145.93 L380.16,147.16 L378.16,148.45 L376.15,149.81 L374.15,151.24 L372.15,152.74 L370.15,154.33 L368.15,156.00 L366.15,157.77 L364.15,159.63 L362.15,161.61 L360.15,163.71 L358.15,165.99 L356.15,168.53 L354.15,171.25 L352.15,174.16 L350.15,177.29 L348.15,180.65 L346.14,184.26 L344.14,188.16 L342.14,192.38 L340.14,196.94 L338.14,201.89 L336.14,207.26 L334.14,213.11 L332.14,219.49 L331.80,220.63 L331.46,221.79 L331.12,222.97 L330.78,224.17 L330.43,225.38 L330.09,226.62 L329.75,227.87 L329.41,229.14 L329.07,230.43 L328.73,231.74 L328.39,233.07 L328.05,234.43 L327.71,235.80 L327.36,237.20 L327.02,238.61 L326.68,240.05 L326.34,241.51 L326.00,243.00 L325.66,244.50 L325.32,246.03 L324.98,247.59 L324.64,249.17 L324.29,250.77 L323.95,252.40 L323.61,254.06 L323.27,255.74 L322.93,257.44 L322.59,259.18 L322.25,260.94 L321.91,262.73 L321.57,264.54 L321.22,266.39 L320.88,268.26 L320.54,270.16 L320.20,272.09 L319.86,274.05 L319.52,276.04 L319.18,278.06 L318.84,280.11 L318.50,282.20 L318.15,284.31 L317.81,286.45 L317.47,288.62 L317.13,290.83 L316.79,293.07 L316.45,295.33 L316.11,297.63 L315.77,299.97 L315.43,302.33 L315.08,304.72 L314.74,307.15 L314.40,309.60 L314.06,312.09 L313.72,314.60 L313.38,317.14 L313.04,319.72 L312.70,322.32 L312.36,324.94 L312.01,327.60 L311.67,330.27 L311.33,332.98 L310.99,335.70 L310.65,338.44 L310.31,341.21 L309.97,343.99 L309.63,346.78 L309.29,349.59 L308.94,352.40 L308.60,355.22 L308.26,358.05 L307.92,360.88 L307.58,363.70 L307.24,366.51 L306.90,369.32 L306.56,372.10 L306.22,374.87 L305.87,377.61 L305.53,380.31 L305.19,382.98 L304.85,385.60 L304.51,388.17 L304.17,390.68 L303.83,393.12 L303.49,395.49 L303.15,397.77 L302.80,399.96 L302.46,402.05 L302.12,404.03 L301.78,405.89 L301.44,407.61 L301.10,409.20 L300.76,410.63 L300.42,411.90 L300.08,413.00 L299.73,413.92 L299.39,414.64 L299.05,415.17 L298.71,415.49 L298.37,415.60 L297.76,415.60 L297.36,415.39 L296.96,414.76 L296.57,413.76 L296.17,412.41 L295.77,410.74 L295.37,408.78 L294.98,406.57 L294.58,404.13 L294.18,401.50 L293.79,398.70 L293.39,395.75 L292.99,392.67 L292.60,389.49 L292.20,386.22 L291.80,382.88 L291.41,379.49 L291.01,376.05 L290.61,372.58 L290.21,369.10 L289.82,365.60 L289.42,362.10 L289.02,358.61 L288.63,355.14 L288.23,351.68 L287.83,348.24 L287.44,344.84 L287.04,341.46 L286.64,338.12 L286.25,334.82 L285.85,331.56 L285.45,328.35 L285.05,325.17 L284.66,322.05 L284.26,318.97 L283.86,315.94 L283.47,312.95 L283.07,310.02 L282.67,307.13 L282.28,304.29 L281.88,301.50 L281.48,298.76 L281.08,296.07 L280.69,293.43 L280.29,290.83 L279.89,288.28 L279.50,285.78 L279.10,283.32 L278.70,280.91 L278.31,278.55 L277.91,276.23 L277.51,273.95 L277.12,271.71 L276.72,269.52 L276.32,267.37 L275.92,265.26 L275.53,263.19 L275.13,261.15 L274.73,259.16 L274.34,257.20 L273.94,255.28 L273.54,253.39 L273.15,251.54 L272.75,249.73 L272.35,247.95 L271.96,246.20 L271.56,244.48 L271.16,242.79 L270.76,241.14 L270.37,239.52 L269.97,237.92 L269.57,236.35 L269.18,234.82 L268.78,233.31 L268.38,231.82 L267.99,230.37 L267.59,228.94 L267.19,227.53 L266.80,226.15 L266.40,224.79 L266.00,223.46 L265.60,222.15 L265.21,220.86 L264.81,219.60 L264.41,218.35 L264.02,217.13 L263.62,215.93 L263.22,214.75 L262.83,213.58 L262.43,212.44 L262.03,211.32 L261.64,210.21 L261.24,209.13 L260.84,208.06 L260.44,207.01 L260.05,205.97 L259.65,204.95 L259.25,203.95 L258.86,202.96 L258.46,201.99 L256.46,197.33 L254.46,193.01 L252.46,189.01 L250.46,185.30 L248.46,181.84 L246.46,178.62 L244.46,175.60 L242.45,172.79 L240.45,170.15 L238.45,167.67 L236.45,165.34 L234.45,163.15 L232.45,161.08 L230.45,159.04 L228.45,157.06 L226.45,155.20 L224.45,153.45 L222.45,151.79 L220.45,150.23 L218.45,148.75 L216.45,147.35 L214.45,146.02 L212.44,144.76 L210.44,143.56 L208.44,142.42 L206.44,141.34 L204.44,140.31 L202.44,139.32 L200.44,138.38 L198.44,137.48 L196.44,136.62 L194.44,135.80 L192.44,135.02 L190.44,134.26 L188.44,133.54 L186.44,132.85 L184.44,132.18 L182.43,131.54 L180.43,130.93 L178.43,130.34 L176.43,129.77 L174.43,129.22 L172.43,128.69 L170.43,128.18 L168.43,127.69 L166.43,127.22 L164.43,126.76 L162.43,126.32 L160.43,125.89 L158.43,125.48 L156.43,125.08 L154.42,124.69 L152.42,124.31 L150.42,123.95 L148.42,123.60 L146.42,123.26 L144.42,122.93 L142.42,122.60 L140.42,122.29 L138.42,121.99 L136.42,121.69 L134.42,121.41 L132.42,121.13 L130.42,120.86 L128.42,120.60 L126.42,120.34 L124.41,120.09 L122.41,119.85 L120.41,119.61 L118.41,119.38 L116.41,119.16 L114.41,118.94 L112.41,118.71 L110.41,118.48 L108.41,118.26 L106.41,118.04 L104.41,117.83 L102.41,117.62 L100.41,117.41 L98.41,117.21 L96.41,117.01 L94.40,116.82 L92.40,116.63 L90.40,116.45 L88.40,116.27 L86.40,116.09 L84.40,115.92 L82.40,115.75 L80.40,115.58" stroke="#00ff00" /><path d="M80.40,78.56 L82.40,78.69 L84.40,78.83 L86.40,78.97 L88.40,79.11 L90.40,79.25 L92.40,79.40 L94.40,79.55 L96.41,79.71 L98.41,79.87 L100.41,80.03 L102.41,80.20 L104.41,80.40 L106.41,80.59 L108.41,80.80 L110.41,81.01 L112.41,81.22 L114.41,81.44 L116.41,81.67 L118.41,81.90 L120.41,82.14 L122.41,82.39 L124.41,82.64 L126.42,82.90 L128.42,83.17 L130.42,83.44 L132.42,83.73 L134.42,84.02 L136.42,84.32 L138.42,84.64 L140.42,84.96 L142.42,85.29 L144.42,85.63 L146.42,85.98 L148.42,86.35 L150.42,86.72 L152.42,87.11 L154.42,87.52 L156.43,87.93 L158.43,88.36 L160.43,88.81 L162.43,89.27 L164.43,89.75 L166.43,90.25 L168.43,90.76 L170.43,91.30 L172.43,91.86 L174.43,92.43 L176.43,93.03 L178.43,93.66 L180.43,94.31 L182.43,94.99 L184.44,95.69 L186.44,96.43 L188.44,97.20 L190.44,98.00 L192.44,98.84 L194.44,99.71 L196.44,100.63 L198.44,101.59 L200.44,102.60 L202.44,103.66 L204.44,104.77 L206.44,105.94 L208.44,107.17 L210.44,108.46 L212.44,109.82 L214.45,111.26 L216.45,112.78 L218.45,114.39 L220.45,116.11 L222.45,118.06 L224.45,120.14 L226.45,122.36 L228.45,124.73 L230.45,127.28 L232.45,130.01 L234.45,132.94 L236.45,136.10 L238.45,139.51 L240.45,143.19 L242.45,147.16 L244.46,151.48 L246.46,156.15 L248.46,161.24 L250.46,166.78 L252.46,172.83 L254.46,179.43 L256.46,186.66 L258.46,194.58 L258.79,195.97 L259.13,197.39 L259.46,198.84 L259.80,200.30 L260.13,201.79 L260.47,203.30 L260.80,204.83 L261.14,206.39 L261.47,207.97 L261.81,209.58 L262.14,211.21 L262.48,212.87 L262.81,214.55 L263.15,216.26 L263.48,218.00 L263.82,219.76 L264.15,221.56 L264.49,223.38 L264.82,225.22 L265.16,227.10 L265.49,229.01 L265.83,230.94 L266.16,232.91 L266.50,234.90 L266.83,236.93 L267.17,238.98 L267.50,241.07 L267.84,243.19 L268.17,245.34 L268.51,247.52 L268.84,249.74 L269.18,251.98 L269.51,254.26 L269.85,256.58 L270.18,258.92 L270.52,261.30 L270.85,263.71 L271.19,266.16 L271.52,268.64 L271.86,271.15 L272.19,273.70 L272.53,276.27 L272.86,278.88 L273.20,281.53 L273.53,284.20 L273.87,286.91 L274.20,289.65 L274.54,292.42 L274.87,295.22 L275.21,298.05 L275.54,300.91 L275.88,303.79 L276.21,306.70 L276.55,309.64 L276.88,312.60 L277.21,315.59 L277.55,318.60 L277.88,321.62 L278.22,324.66 L278.55,327.72 L278.89,330.80 L279.22,333.88 L279.56,336.97 L279.89,340.07 L280.23,343.17 L280.56,346.27 L280.90,349.37 L281.23,352.46 L281.57,355.54 L281.90,358.60 L282.24,361.65 L282.57,364.67 L282.91,367.66 L283.24,370.62 L283.58,373.54 L283.91,376.41 L284.25,379.24 L284.58,382.01 L284.92,384.72 L285.25,387.36 L285.59,389.92 L285.92,392.41 L286.26,394.80 L286.59,397.11 L286.93,399.30 L287.26,401.39 L287.60,403.37 L287.93,405.22 L288.27,406.94 L288.60,408.52 L288.94,409.96 L289.27,411.25 L289.61,412.38 L289.94,413.35 L290.28,414.15 L290.61,414.78 L290.95,415.23 L291.28,415.51 L291.62,415.60 L292.84,415.60 L293.24,415.40 L293.64,414.79 L294.03,413.80 L294.43,412.46 L294.83,410.77 L295.23,408.78 L295.62,406.50 L296.02,403.96 L296.42,401.18 L296.81,398.19 L297.21,395.02 L297.61,391.68 L298.00,388.19 L298.40,384.58 L298.80,380.87 L299.19,377.07 L299.59,373.19 L299.99,369.26 L300.39,365.28 L300.78,361.27 L301.18,357.24 L301.58,353.20 L301.97,349.16 L302.37,345.12 L302.77,341.10 L303.16,337.10 L303.56,333.12 L303.96,329.17 L304.35,325.26 L304.75,321.39 L305.15,317.57 L305.55,313.78 L305.94,310.05 L306.34,306.37 L306.74,302.74 L307.13,299.16 L307.53,295.64 L307.93,292.17 L308.32,288.76 L308.72,285.41 L309.12,282.11 L309.52,278.87 L309.91,275.69 L310.31,272.57 L310.71,269.50 L311.10,266.49 L311.50,263.53 L311.90,260.63 L312.29,257.79 L312.69,254.99 L313.09,252.26 L313.48,249.57 L313.88,246.94 L314.28,244.35 L314.68,241.82 L315.07,239.34 L315.47,236.90 L315.87,234.52 L316.26,232.17 L316.66,229.88 L317.06,227.63 L317.45,225.42 L317.85,223.26 L318.25,221.14 L318.64,219.06 L319.04,217.02 L319.44,215.02 L319.84,213.06 L320.23,211.13 L320.63,209.24 L321.03,207.39 L321.42,205.58 L321.82,203.80 L322.22,202.05 L322.61,200.34 L323.01,198.66 L323.41,197.01 L323.80,195.39 L324.20,193.80 L324.60,192.24 L325.00,190.71 L325.39,189.21 L325.79,187.73 L326.19,186.29 L326.58,184.87 L326.98,183.47 L327.38,182.10 L327.77,180.75 L328.17,179.43 L328.57,178.14 L328.96,176.86 L329.36,175.61 L329.76,174.38 L330.16,173.17 L330.55,171.98 L330.95,170.81 L331.35,169.67 L331.74,168.54 L332.14,167.43 L334.14,162.12 L336.14,157.24 L338.14,152.74 L340.14,148.59 L342.14,144.75 L344.14,141.19 L346.14,137.88 L348.15,134.80 L350.15,131.93 L352.15,129.26 L354.15,126.75 L356.15,124.41 L358.15,122.21 L360.15,120.14 L362.15,118.20 L364.15,116.37 L366.15,114.64 L368.15,113.01 L370.15,111.47 L372.15,109.90 L374.15,108.41 L376.15,107.00 L378.16,105.67 L380.16,104.41 L382.16,103.22 L384.16,102.09 L386.16,101.03 L388.16,100.01 L390.16,99.05 L392.16,98.13 L394.16,97.26 L396.16,96.43 L398.16,95.64 L400.16,94.88 L402.16,94.16 L404.16,93.47 L406.16,92.81 L408.17,92.18 L410.17,91.57 L412.17,90.99 L414.17,90.43 L416.17,89.90 L418.17,89.39 L420.17,88.90 L422.17,88.42 L424.17,87.97 L426.17,87.53 L428.17,87.11 L430.17,86.70 L432.17,86.31 L434.17,85.93 L436.18,85.56 L438.18,85.21 L440.18,84.87 L442.18,84.54 L444.18,84.22 L446.18,83.92 L448.18,83.62 L450.18,83.33 L452.18,83.05 L454.18,82.78 L456.18,82.52 L458.18,82.26 L460.18,82.02 L462.18,81.78 L464.18,81.55 L466.19,81.32 L468.19,81.10 L470.19,80.89 L472.19,80.68 L474.19,80.48 L476.19,80.28 L478.19,80.09 L480.19,79.91 L482.19,79.73 L484.19,79.55 L486.19,79.38 L488.19,79.21 L490.19,79.03 L492.19,78.86 L494.19,78.68 L496.20,78.51 L498.20,78.35 L500.20,78.19 L502.20,78.03 L504.20,77.87 L506.20,77.72 L508.20,77.57 L510.20,77.43" stroke="#0000ff" /><path d="M510.20,78.56 L508.20,78.69 L506.20,78.83 L504.20,78.97 L502.20,79.11 L500.20,79.25 L498.20,79.40 L496.20,79.55 L494.19,79.71 L492.19,79.87 L490.19,80.03 L488.19,80.20 L486.19,80.40 L484.19,80.59 L482.19,80.80 L480.19,81.01 L478.19,81.22 L476.19,81.44 L474.19,81.67 L472.19,81.90 L470.19,82.14 L468.19,82.39 L466.19,82.64 L464.18,82.90 L462.18,83.17 L460.18,83.44 L458.18,83.73 L456.18,84.02 L454.18,84.32 L452.18,84.64 L450.18,84.96 L448.18,85.29 L446.18,85.63 L444.18,85.98 L442.18,86.35 L440.18,86.72 L438.18,87.11 L436.18,87.52 L434.17,87.93 L432.17,88.36 L430.17,88.81 L428.17,89.27 L426.17,89.75 L424.17,90.25 L422.17,90.76 L420.17,91.30 L418.17,91.86 L416.17,92.43 L414.17,93.03 L412.17,93.66 L410.17,94.31 L408.17,94.99 L406.16,95.69 L404.16,96.43 L402.16,97.20 L400.16,98.00 L398.16,98.84 L396.16,99.71 L394.16,100.63 L392.16,101.59 L390.16,102.60 L388.16,103.66 L386.16,104.77 L384.16,105.94 L382.16,107.17 L380.16,108.46 L378.16,109.82 L376.15,111.26 L374.15,112.78 L372.15,114.39 L370.15,116.11 L368.15,118.06 L366.15,120.14 L364.15,122.36 L362.15,124.73 L360.15,127.28 L358.15,130.01 L356.15,132.94 L354.15,136.10 L352.15,139.51 L350.15,143.19 L348.15,147.16 L346.14,151.48 L344.14,156.15 L342.14,161.24 L340.14,166.78 L338.14,172.83 L336.14,179.43 L334.14,186.66 L332.14,194.58 L331.81,195.97 L331.47,197.39 L331.14,198.84 L330.80,200.30 L330.47,201.79 L330.13,203.30 L329.80,204.83 L329.46,206.39 L329.13,207.97 L328.79,209.58 L328.46,211.21 L328.12,212.87 L327.79,214.55 L327.45,216.26 L327.12,218.00 L326.78,219.76 L326.45,221.56 L326.11,223.38 L325.78,225.22 L325.44,227.10 L325.11,229.01 L324.77,230.94 L324.44,232.91 L324.10,234.90 L323.77,236.93 L323.43,238.98 L323.10,241.07 L322.76,243.19 L322.43,245.34 L322.09,247.52 L321.76,249.74 L321.42,251.98 L321.09,254.26 L320.75,256.58 L320.42,258.92 L320.08,261.30 L319.75,263.71 L319.41,266.16 L319.08,268.64 L318.74,271.15 L318.41,273.70 L318.07,276.27 L317.74,278.88 L317.40,281.53 L317.07,284.20 L316.73,286.91 L316.40,289.65 L316.06,292.42 L315.73,295.22 L315.39,298.05 L315.06,300.91 L314.72,303.79 L314.39,306.70 L314.05,309.64 L313.72,312.60 L313.39,315.59 L313.05,318.60 L312.72,321.62 L312.38,324.66 L312.05,327.72 L311.71,330.80 L311.38,333.88 L311.04,336.97 L310.71,340.07 L310.37,343.17 L310.04,346.27 L309.70,349.37 L309.37,352.46 L309.03,355.54 L308.70,358.60 L308.36,361.65 L308.03,364.67 L307.69,367.66 L307.36,370.62 L307.02,373.54 L306.69,376.41 L306.35,379.24 L306.02,382.01 L305.68,384.72 L305.35,387.36 L305.01,389.92 L304.68,392.41 L304.34,394.80 L304.01,397.11 L303.67,399.30 L303.34,401.39 L303.00,403.37 L302.67,405.22 L302.33,406.94 L302.00,408.52 L301.66,409.96 L301.33,411.25 L300.99,412.38 L300.66,413.35 L300.32,414.15 L299.99,414.78 L299.65,415.23 L299.32,415.51 L298.98,415.60 L297.76,415.60 L297.36,415.40 L296.96,414.79 L296.57,413.80 L296.17,412.46 L295.77,410.77 L295.37,408.78 L294.98,406.50 L294.58,403.96 L294.18,401.18 L293.79,398.19 L293.39,395.02 L292.99,391.68 L292.60,388.19 L292.20,384.58 L291.80,380.87 L291.41,377.07 L291.01,373.19 L290.61,369.26 L290.21,365.28 L289.82,361.27 L289.42,357.24 L289.02,353.20 L288.63,349.16 L288.23,345.12 L287.83,341.10 L287.44,337.10 L287.04,333.12 L286.64,329.17 L286.25,325.26 L285.85,321.39 L285.45,317.57 L285.05,313.78 L284.66,310.05 L284.26,306.37 L283.86,302.74 L283.47,299.16 L283.07,295.64 L282.67,292.17 L282.28,288.76 L281.88,285.41 L281.48,282.11 L281.08,278.87 L280.69,275.69 L280.29,272.57 L279.89,269.50 L279.50,266.49 L279.10,263.53 L278.70,260.63 L278.31,257.79 L277.91,254.99 L277.51,252.26 L277.12,249.57 L276.72,246.94 L276.32,244.35 L275.92,241.82 L275.53,239.34 L275.13,236.90 L274.73,234.52 L274.34,232.17 L273.94,229.88 L273.54,227.63 L273.15,225.42 L272.75,223.26 L272.35,221.14 L271.96,219.06 L271.56,217.02 L271.16,215.02 L270.76,213.06 L270.37,211.13 L269.97,209.24 L269.57,207.39 L269.18,205.58 L268.78,203.80 L268.38,202.05 L267.99,200.34 L267.59,198.66 L267.19,197.01 L266.80,195.39 L266.40,193.80 L266.00,192.24 L265.60,190.71 L265.21,189.21 L264.81,187.73 L264.41,186.29 L264.02,184.87 L263.62,183.47 L263.22,182.10 L262.83,180.75 L262.43,179.43 L262.03,178.14 L261.64,176.86 L261.24,175.61 L260.84,174.38 L260.44,173.17 L260.05,171.98 L259.65,170.81 L259.25,169.67 L258.86,168.54 L258.46,167.43 L256.46,162.12 L254.46,157.24 L252.46,152.74 L250.46,148.59 L248.46,144.75 L246.46,141.19 L244.46,137.88 L242.45,134.80 L240.45,131.93 L238.45,129.26 L236.45,126.75 L234.45,124.41 L232.45,122.21 L230.45,120.14 L228.45,118.20 L226.45,116.37 L224.45,114.64 L222.45,113.01 L220.45,111.47 L218.45,109.90 L216.45,108.41 L214.45,107.00 L212.44,105.67 L210.44,104.41 L208.44,103.22 L206.44,102.09 L204.44,101.03 L202.44,100.01 L200.44,99.05 L198.44,98.13 L196.44,97.26 L194.44,96.43 L192.44,95.64 L190.44,94.88 L188.44,94.16 L186.44,93.47 L184.44,92.81 L182.43,92.18 L180.43,91.57 L178.43,90.99 L176.43,90.43 L174.43,89.90 L172.43,89.39 L170.43,88.90 L168.43,88.42 L166.43,87.97 L164.43,87.53 L162.43,87.11 L160.43,86.70 L158.43,86.31 L156.43,85.93 L154.42,85.56 L152.42,85.21 L150.42,84.87 L148.42,84.54 L146.42,84.22 L144.42,83.92 L142.42,83.62 L140.42,83.33 L138.42,83.05 L136.42,82.78 L134.42,82.52 L132.42,82.26 L130.42,82.02 L128.42,81.78 L126.42,81.55 L124.41,81.32 L122.41,81.10 L120.41,80.89 L118.41,80.68 L116.41,80.48 L114.41,80.28 L112.41,80.09 L110.41,79.91 L108.41,79.73 L106.41,79.55 L104.41,79.38 L102.41,79.21 L100.41,79.03 L98.41,78.86 L96.41,78.68 L94.40,78.51 L92.40,78.35 L90.40,78.19 L88.40,78.03 L86.40,77.87 L84.40,77.72 L82.40,77.57 L80.40,77.43" stroke="#0000ff" /><path d="M80.40,50.61 L82.40,50.75 L84.40,50.89 L86.40,51.04 L88.40,51.19 L90.40,51.34 L92.40,51.50 L94.40,51.67 L96.41,51.83 L98.41,52.01 L100.41,52.18 L102.41,52.37 L104.41,52.55 L106.41,52.75 L108.41,52.94 L110.41,53.16 L112.41,53.39 L114.41,53.63 L116.41,53.88 L118.41,54.13 L120.41,54.39 L122.41,54.66 L124.41,54.94 L126.42,55.22 L128.42,55.51 L130.42,55.82 L132.42,56.13 L134.42,56.44 L136.42,56.77 L138.42,57.11 L140.42,57.47 L142.42,57.83 L144.42,58.20 L146.42,58.59 L148.42,58.99 L150.42,59.40 L152.42,59.83 L154.42,60.27 L156.43,60.72 L158.43,61.20 L160.43,61.69 L162.43,62.19 L164.43,62.72 L166.43,63.27 L168.43,63.84 L170.43,64.42 L172.43,65.04 L174.43,65.67 L176.43,66.33 L178.43,67.02 L180.43,67.74 L182.43,68.49 L184.44,69.27 L186.44,70.08 L188.44,70.93 L190.44,71.82 L192.44,72.75 L194.44,73.72 L196.44,74.74 L198.44,75.81 L200.44,76.93 L202.44,78.10 L204.44,79.34 L206.44,80.64 L208.44,82.01 L210.44,83.45 L212.44,84.97 L214.45,86.58 L216.45,88.28 L218.45,90.15 L220.45,92.21 L222.45,94.40 L224.45,96.75 L226.45,99.26 L228.45,101.94 L230.45,104.82 L232.45,107.91 L234.45,111.24 L236.45,114.82 L238.45,118.69 L240.45,122.86 L242.45,127.38 L244.46,132.29 L246.46,137.61 L248.46,143.40 L250.46,149.70 L252.46,156.58 L254.46,164.09 L256.46,172.30 L258.46,181.29 L258.79,182.86 L259.12,184.46 L259.46,186.08 L259.79,187.72 L260.12,189.39 L260.45,191.08 L260.78,192.80 L261.11,194.55 L261.45,196.32 L261.78,198.12 L262.11,199.94 L262.44,201.80 L262.77,203.68 L263.11,205.59 L263.44,207.53 L263.77,209.49 L264.10,211.49 L264.43,213.52 L264.76,215.57 L265.10,217.66 L265.43,219.78 L265.76,221.93 L266.09,224.11 L266.42,226.32 L266.76,228.56 L267.09,230.84 L267.42,233.15 L267.75,235.49 L268.08,237.86 L268.41,240.27 L268.75,242.71 L269.08,245.18 L269.41,247.68 L269.74,250.22 L270.07,252.80 L270.41,255.40 L270.74,258.04 L271.07,260.71 L271.40,263.42 L271.73,266.16 L272.06,268.93 L272.40,271.73 L272.73,274.56 L273.06,277.43 L273.39,280.32 L273.72,283.25 L274.05,286.20 L274.39,289.19 L274.72,292.20 L275.05,295.23 L275.38,298.30 L275.71,301.38 L276.05,304.49 L276.38,307.62 L276.71,310.77 L277.04,313.94 L277.37,317.13 L277.70,320.32 L278.04,323.53 L278.37,326.75 L278.70,329.98 L279.03,333.21 L279.36,336.45 L279.70,339.68 L280.03,342.90 L280.36,346.12 L280.69,349.33 L281.02,352.52 L281.35,355.69 L281.69,358.84 L282.02,361.96 L282.35,365.05 L282.68,368.09 L283.01,371.10 L283.35,374.06 L283.68,376.97 L284.01,379.81 L284.34,382.60 L284.67,385.31 L285.00,387.95 L285.34,390.50 L285.67,392.97 L286.00,395.34 L286.33,397.61 L286.66,399.78 L287.00,401.83 L287.33,403.76 L287.66,405.57 L287.99,407.24 L288.32,408.78 L288.65,410.17 L288.99,411.42 L289.32,412.51 L289.65,413.44 L289.98,414.21 L290.31,414.82 L290.65,415.25 L290.98,415.51 L291.31,415.60 L292.84,415.60 L293.24,415.40 L293.64,414.81 L294.03,413.84 L294.43,412.51 L294.83,410.85 L295.23,408.87 L295.62,406.60 L296.02,404.06 L296.42,401.28 L296.81,398.28 L297.21,395.08 L297.61,391.70 L298.00,388.16 L298.40,384.48 L298.80,380.69 L299.19,376.79 L299.59,372.80 L299.99,368.75 L300.39,364.64 L300.78,360.48 L301.18,356.28 L301.58,352.07 L301.97,347.84 L302.37,343.61 L302.77,339.38 L303.16,335.17 L303.56,330.97 L303.96,326.80 L304.35,322.65 L304.75,318.54 L305.15,314.46 L305.55,310.43 L305.94,306.44 L306.34,302.50 L306.74,298.61 L307.13,294.76 L307.53,290.98 L307.93,287.24 L308.32,283.56 L308.72,279.94 L309.12,276.37 L309.52,272.86 L309.91,269.41 L310.31,266.02 L310.71,262.68 L311.10,259.40 L311.50,256.18 L311.90,253.01 L312.29,249.91 L312.69,246.85 L313.09,243.86 L313.48,240.92 L313.88,238.03 L314.28,235.19 L314.68,232.41 L315.07,229.68 L315.47,227.00 L315.87,224.37 L316.26,221.80 L316.66,219.26 L317.06,216.78 L317.45,214.35 L317.85,211.96 L318.25,209.61 L318.64,207.31 L319.04,205.05 L319.44,202.84 L319.84,200.67 L320.23,198.53 L320.63,196.44 L321.03,194.39 L321.42,192.38 L321.82,190.40 L322.22,188.46 L322.61,186.55 L323.01,184.68 L323.41,182.85 L323.80,181.05 L324.20,179.28 L324.60,177.55 L325.00,175.84 L325.39,174.17 L325.79,172.53 L326.19,170.91 L326.58,169.33 L326.98,167.77 L327.38,166.24 L327.77,164.74 L328.17,163.27 L328.57,161.82 L328.96,160.40 L329.36,159.00 L329.76,157.62 L330.16,156.27 L330.55,154.94 L330.95,153.64 L331.35,152.36 L331.74,151.10 L332.14,149.86 L334.14,143.92 L336.14,138.45 L338.14,133.41 L340.14,128.76 L342.14,124.45 L344.14,120.46 L346.14,116.75 L348.15,113.30 L350.15,110.09 L352.15,107.09 L354.15,104.28 L356.15,101.65 L358.15,99.18 L360.15,96.87 L362.15,94.69 L364.15,92.64 L366.15,90.70 L368.15,88.87 L370.15,87.15 L372.15,85.51 L374.15,83.90 L376.15,82.31 L378.16,80.82 L380.16,79.40 L382.16,78.06 L384.16,76.80 L386.16,75.60 L388.16,74.46 L390.16,73.37 L392.16,72.35 L394.16,71.37 L396.16,70.44 L398.16,69.55 L400.16,68.70 L402.16,67.89 L404.16,67.12 L406.16,66.38 L408.17,65.68 L410.17,65.00 L412.17,64.36 L414.17,63.74 L416.17,63.14 L418.17,62.57 L420.17,62.02 L422.17,61.49 L424.17,60.99 L426.17,60.50 L428.17,60.03 L430.17,59.58 L432.17,59.14 L434.17,58.72 L436.18,58.32 L438.18,57.92 L440.18,57.55 L442.18,57.18 L444.18,56.83 L446.18,56.49 L448.18,56.16 L450.18,55.84 L452.18,55.53 L454.18,55.23 L456.18,54.94 L458.18,54.66 L460.18,54.39 L462.18,54.12 L464.18,53.87 L466.19,53.62 L468.19,53.38 L470.19,53.14 L472.19,52.91 L474.19,52.69 L476.19,52.48 L478.19,52.27 L480.19,52.06 L482.19,51.85 L484.19,51.64 L486.19,51.43 L488.19,51.22 L490.19,51.02 L492.19,50.82 L494.19,50.63 L496.20,50.45 L498.20,50.26 L500.20,50.08 L502.20,49.91 L504.20,49.74 L506.20,49.57 L508.20,49.41 L510.20,49.25" stroke="#ff00ff" /><path d="M510.20,50.61 L508.20,50.75 L506.20,50.89 L504.20,51.04 L502.20,51.19 L500.20,51.34 L498.20,51.50 L496.20,51.67 L494.19,51.83 L492.19,52.01 L490.19,52.18 L488.19,52.37 L486.19,52.55 L484.19,52.75 L482.19,52.94 L480.19,53.16 L478.19,53.39 L476.19,53.63 L474.19,53.88 L472.19,54.13 L470.19,54.39 L468.19,54.66 L466.19,54.94 L464.18,55.22 L462.18,55.51 L460.18,55.82 L458.18,56.13 L456.18,56.44 L454.18,56.77 L452.18,57.11 L450.18,57.47 L448.18,57.83 L446.18,58.20 L444.18,58.59 L442.18,58.99 L440.18,59.40 L438.18,59.83 L436.18,60.27 L434.17,60.72 L432.17,61.20 L430.17,61.69 L428.17,62.19 L426.17,62.72 L424.17,63.27 L422.17,63.84 L420.17,64.42 L418.17,65.04 L416.17,65.67 L414.17,66.33 L412.17,67.02 L410.17,67.74 L408.17,68.49 L406.16,69.27 L404.16,70.08 L402.16,70.93 L400.16,71.82 L398.16,72.75 L396.16,73.72 L394.16,74.74 L392.16,75.81 L390.16,76.93 L388.16,78.10 L386.16,79.34 L384.16,80.64 L382.16,82.01 L380.16,83.45 L378.16,84.97 L376.15,86.58 L374.15,88.28 L372.15,90.15 L370.15,92.21 L368.15,94.40 L366.15,96.75 L364.15,99.26 L362.15,101.94 L360.15,104.82 L358.15,107.91 L356.15,111.24 L354.15,114.82 L352.15,118.69 L350.15,122.86 L348.15,127.38 L346.14,132.29 L344.14,137.61 L342.14,143.40 L340.14,149.70 L338.14,156.58 L336.14,164.09 L334.14,172.30 L332.14,181.29 L331.81,182.86 L331.48,184.46 L331.14,186.08 L330.81,187.72 L330.48,189.39 L330.15,191.08 L329.82,192.80 L329.49,194.55 L329.15,196.32 L328.82,198.12 L328.49,199.94 L328.16,201.80 L327.83,203.68 L327.49,205.59 L327.16,207.53 L326.83,209.49 L326.50,211.49 L326.17,213.52 L325.84,215.57 L325.50,217.66 L325.17,219.78 L324.84,221.93 L324.51,224.11 L324.18,226.32 L323.84,228.56 L323.51,230.84 L323.18,233.15 L322.85,235.49 L322.52,237.86 L322.19,240.27 L321.85,242.71 L321.52,245.18 L321.19,247.68 L320.86,250.22 L320.53,252.80 L320.19,255.40 L319.86,258.04 L319.53,260.71 L319.20,263.42 L318.87,266.16 L318.54,268.93 L318.20,271.73 L317.87,274.56 L317.54,277.43 L317.21,280.32 L316.88,283.25 L316.55,286.20 L316.21,289.19 L315.88,292.20 L315.55,295.23 L315.22,298.30 L314.89,301.38 L314.55,304.49 L314.22,307.62 L313.89,310.77 L313.56,313.94 L313.23,317.13 L312.90,320.32 L312.56,323.53 L312.23,326.75 L311.90,329.98 L311.57,333.21 L311.24,336.45 L310.90,339.68 L310.57,342.90 L310.24,346.12 L309.91,349.33 L309.58,352.52 L309.25,355.69 L308.91,358.84 L308.58,361.96 L308.25,365.05 L307.92,368.09 L307.59,371.10 L307.25,374.06 L306.92,376.97 L306.59,379.81 L306.26,382.60 L305.93,385.31 L305.60,387.95 L305.26,390.50 L304.93,392.97 L304.60,395.34 L304.27,397.61 L303.94,399.78 L303.60,401.83 L303.27,403.76 L302.94,405.57 L302.61,407.24 L302.28,408.78 L301.95,410.17 L301.61,411.42 L301.28,412.51 L300.95,413.44 L300.62,414.21 L300.29,414.82 L299.95,415.25 L299.62,415.51 L299.29,415.60 L297.76,415.60 L297.36,415.40 L296.96,414.81 L296.57,413.84 L296.17,412.51 L295.77,410.85 L295.37,408.87 L294.98,406.60 L294.58,404.06 L294.18,401.28 L293.79,398.28 L293.39,395.08 L292.99,391.70 L292.60,388.16 L292.20,384.48 L291.80,380.69 L291.41,376.79 L291.01,372.80 L290.61,368.75 L290.21,364.64 L289.82,360.48 L289.42,356.28 L289.02,352.07 L288.63,347.84 L288.23,343.61 L287.83,339.38 L287.44,335.17 L287.04,330.97 L286.64,326.80 L286.25,322.65 L285.85,318.54 L285.45,314.46 L285.05,310.43 L284.66,306.44 L284.26,302.50 L283.86,298.61 L283.47,294.76 L283.07,290.98 L282.67,287.24 L282.28,283.56 L281.88,279.94 L281.48,276.37 L281.08,272.86 L280.69,269.41 L280.29,266.02 L279.89,262.68 L279.50,259.40 L279.10,256.18 L278.70,253.01 L278.31,249.91 L277.91,246.85 L277.51,243.86 L277.12,240.92 L276.72,238.03 L276.32,235.19 L275.92,232.41 L275.53,229.68 L275.13,227.00 L274.73,224.37 L274.34,221.80 L273.94,219.26 L273.54,216.78 L273.15,214.35 L272.75,211.96 L272.35,209.61 L271.96,207.31 L271.56,205.05 L271.16,202.84 L270.76,200.67 L270.37,198.53 L269.97,196.44 L269.57,194.39 L269.18,192.38 L268.78,190.40 L268.38,188.46 L267.99,186.55 L267.59,184.68 L267.19,182.85 L266.80,181.05 L266.40,179.28 L266.00,177.55 L265.60,175.84 L265.21,174.17 L264.81,172.53 L264.41,170.91 L264.02,169.33 L263.62,167.77 L263.22,166.24 L262.83,164.74 L262.43,163.27 L262.03,161.82 L261.64,160.40 L261.24,159.00 L260.84,157.62 L260.44,156.27 L260.05,154.94 L259.65,153.64 L259.25,152.36 L258.86,151.10 L258.46,149.86 L256.46,143.92 L254.46,138.45 L252.46,133.41 L250.46,128.76 L248.46,124.45 L246.46,120.46 L244.46,116.75 L242.45,113.30 L240.45,110.09 L238.45,107.09 L236.45,104.28 L234.45,101.65 L232.45,99.18 L230.45,96.87 L228.45,94.69 L226.45,92.64 L224.45,90.70 L222.45,88.87 L220.45,87.15 L218.45,85.51 L216.45,83.90 L214.45,82.31 L212.44,80.82 L210.44,79.40 L208.44,78.06 L206.44,76.80 L204.44,75.60 L202.44,74.46 L200.44,73.37 L198.44,72.35 L196.44,71.37 L194.44,70.44 L192.44,69.55 L190.44,68.70 L188.44,67.89 L186.44,67.12 L184.44,66.38 L182.43,65.68 L180.43,65.00 L178.43,64.36 L176.43,63.74 L174.43,63.14 L172.43,62.57 L170.43,62.02 L168.43,61.49 L166.43,60.99 L164.43,60.50 L162.43,60.03 L160.43,59.58 L158.43,59.14 L156.43,58.72 L154.42,58.32 L152.42,57.92 L150.42,57.55 L148.42,57.18 L146.42,56.83 L144.42,56.49 L142.42,56.16 L140.42,55.84 L138.42,55.53 L136.42,55.23 L134.42,54.94 L132.42,54.66 L130.42,54.39 L128.42,54.12 L126.42,53.87 L124.41,53.62 L122.41,53.38 L120.41,53.14 L118.41,52.91 L116.41,52.69 L114.41,52.48 L112.41,52.27 L110.41,52.06 L108.41,51.85 L106.41,51.64 L104.41,51.43 L102.41,51.22 L100.41,51.02 L98.41,50.82 L96.41,50.63 L94.40,50.45 L92.40,50.26 L90.40,50.08 L88.40,49.91 L86.40,49.74 L84.40,49.57 L82.40,49.41 L80.40,49.25" stroke="#ff00ff" /></g>
<g fill="#000000"><circle cx="78.0" cy="190.0" r="3.25"/><circle cx="81.0" cy="191.0" r="3.25"/><circle cx="84.0" cy="189.0" r="3.25"/><circle cx="85.0" cy="193.0" r="3.25"/><circle cx="91.0" cy="192.6" r="3.25"/><circle cx="96.0" cy="191.0" r="3.25"/><circle cx="98.0" cy="193.0" r="3.25"/><circle cx="104.0" cy="194.0" r="3.25"/><circle cx="106.0" cy="192.0" r="3.25"/><circle cx="108.0" cy="194.0" r="3.25"/><circle cx="110.0" cy="192.0" r="3.25"/><circle cx="115.0" cy="195.0" r="3.25"/><circle cx="124.0" cy="195.0" r="3.25"/><circle cx="126.0" cy="197.0" r="3.25"/><circle cx="132.0" cy="196.0" r="3.25"/><circle cx="134.0" cy="198.0" r="3.25"/><circle cx="137.0" cy="196.0" r="3.25"/><circle cx="139.0" cy="201.0" r="3.25"/><circle cx="151.0" cy="205.0" r="3.25"/><circle cx="436.0" cy="203.0" r="3.25"/><circle cx="440.0" cy="202.0" r="3.25"/><circle cx="456.0" cy="201.0" r="3.25"/><circle cx="461.9" cy="195.3" r="3.25"/><circle cx="467.8" cy="196.3" r="3.25"/><circle cx="472.6" cy="194.3" r="3.25"/><circle cx="479.5" cy="196.3" r="3.25"/><circle cx="482.4" cy="192.4" r="3.25"/><circle cx="488.2" cy="192.4" r="3.25"/><circle cx="492.1" cy="191.4" r="3.25"/><circle cx="497.9" cy="194.3" r="3.25"/><circle cx="498.9" cy="190.4" r="3.25"/><circle cx="506.7" cy="190.4" r="3.25"/><circle cx="509.6" cy="193.3" r="3.25"/><circle cx="513.5" cy="189.5" r="3.25"/><circle cx="164.0" cy="203.0" r="3.25"/><circle cx="168.0" cy="206.0" r="3.25"/><circle cx="167.0" cy="211.0" r="3.25"/><circle cx="174.0" cy="210.0" r="3.25"/><circle cx="177.0" cy="214.0" r="3.25"/><circle cx="183.0" cy="217.0" r="3.25"/><circle cx="189.0" cy="216.0" r="3.25"/><circle cx="194.0" cy="225.0" r="3.25"/><circle cx="203.0" cy="227.0" r="3.25"/><circle cx="206.0" cy="230.0" r="3.25"/><circle cx="212.0" cy="238.0" r="3.25"/><circle cx="222.0" cy="243.0" r="3.25"/><circle cx="225.0" cy="248.0" r="3.25"/><circle cx="232.0" cy="256.0" r="3.25"/><circle cx="236.0" cy="261.0" r="3.25"/><circle cx="244.0" cy="272.0" r="3.25"/><circle cx="248.0" cy="278.0" r="3.25"/><circle cx="358.0" cy="240.0" r="3.25"/><circle cx="359.0" cy="253.0" r="3.25"/><circle cx="352.0" cy="259.0" r="3.25"/><circle cx="348.0" cy="266.0" r="3.25"/><circle cx="345.0" cy="271.0" r="3.25"/><circle cx="332.0" cy="284.0" r="3.25"/><circle cx="371.0" cy="242.0" r="3.25"/><circle cx="374.0" cy="232.0" r="3.25"/><circle cx="376.0" cy="237.0" r="3.25"/><circle cx="387.0" cy="229.0" r="3.25"/><circle cx="390.0" cy="224.0" r="3.25"/><circle cx="397.0" cy="221.0" r="3.25"/><circle cx="406.0" cy="215.0" r="3.25"/><circle cx="412.0" cy="216.0" r="3.25"/><circle cx="418.0" cy="210.0" r="3.25"/><circle cx="426.0" cy="207.0" r="3.25"/><circle cx="450.0" cy="199.0" r="3.25"/><circle cx="262.0" cy="302.0" r="3.25"/><circle cx="266.0" cy="308.0" r="3.25"/><circle cx="275.0" cy="328.0" r="3.25"/><circle cx="277.0" cy="346.0" r="3.25"/><circle cx="281.0" cy="350.0" r="3.25"/><circle cx="282.0" cy="355.0" r="3.25"/><circle cx="329.9" cy="297.2" r="3.25"/><circle cx="325.0" cy="307.0" r="3.25"/><circle cx="321.1" cy="318.6" r="3.25"/><circle cx="320.2" cy="332.3" r="3.25"/><circle cx="314.3" cy="334.2" r="3.25"/><circle cx="311.4" cy="348.8" r="3.25"/><circle cx="285.7" cy="374.2" r="3.25"/><circle cx="286.4" cy="378.9" r="3.25"/><circle cx="304.6" cy="377.3" r="3.25"/><circle cx="304.6" cy="382.9" r="3.25"/></g><g fill="#ff0000"><circle cx="79.0" cy="153.0" r="3.25"/><circle cx="83.0" cy="156.0" r="3.25"/><circle cx="86.0" cy="153.0" r="3.25"/><circle cx="90.0" cy="154.0" r="3.25"/><circle cx="92.0" cy="157.0" r="3.25"/><circle cx="96.0" cy="155.0" r="3.25"/><circle cx="97.0" cy="158.0" r="3.25"/><circle cx="102.0" cy="155.0" r="3.25"/><circle cx="106.0" cy="158.0" r="3.25"/><circle cx="109.0" cy="155.0" r="3.25"/><circle cx="114.0" cy="159.0" r="3.25"/><circle cx="115.0" cy="156.0" r="3.25"/><circle cx="120.0" cy="157.0" r="3.25"/><circle cx="123.0" cy="160.0" r="3.25"/><circle cx="127.0" cy="161.0" r="3.25"/><circle cx="130.0" cy="158.0" r="3.25"/><circle cx="133.0" cy="160.0" r="3.25"/><circle cx="138.0" cy="158.0" r="3.25"/><circle cx="139.0" cy="166.0" r="3.25"/><circle cx="143.0" cy="160.0" r="3.25"/><circle cx="149.0" cy="164.0" r="3.25"/><circle cx="153.0" cy="170.0" r="3.25"/><circle cx="159.0" cy="167.0" r="3.25"/><circle cx="162.0" cy="171.0" r="3.25"/><circle cx="168.0" cy="176.0" r="3.25"/><circle cx="169.0" cy="171.0" r="3.25"/><circle cx="181.0" cy="177.0" r="3.25"/><circle cx="183.0" cy="183.0" r="3.25"/><circle cx="190.0" cy="184.0" r="3.25"/><circle cx="199.0" cy="192.0" r="3.25"/><circle cx="201.0" cy="189.0" r="3.25"/><circle cx="209.0" cy="201.0" r="3.25"/><circle cx="213.0" cy="203.0" r="3.25"/><circle cx="373.0" cy="202.0" r="3.25"/><circle cx="379.0" cy="197.0" r="3.25"/><circle cx="384.0" cy="197.0" r="3.25"/><circle cx="389.0" cy="189.0" r="3.25"/><circle cx="390.0" cy="194.0" r="3.25"/><circle cx="404.0" cy="190.0" r="3.25"/><circle cx="405.0" cy="179.0" r="3.25"/><circle cx="414.0" cy="187.0" r="3.25"/><circle cx="417.0" cy="173.0" r="3.25"/><circle cx="423.0" cy="183.0" r="3.25"/><circle cx="424.0" cy="169.0" r="3.25"/><circle cx="431.0" cy="168.0" r="3.25"/><circle cx="437.0" cy="164.0" r="3.25"/><circle cx="442.0" cy="164.0" r="3.25"/><circle cx="446.0" cy="163.0" r="3.25"/><circle cx="451.0" cy="162.0" r="3.25"/><circle cx="454.0" cy="160.0" r="3.25"/><circle cx="461.0" cy="159.0" r="3.25"/><circle cx="468.0" cy="157.0" r="3.25"/><circle cx="473.0" cy="157.0" r="3.25"/><circle cx="478.0" cy="155.0" r="3.25"/><circle cx="481.9" cy="155.8" r="3.25"/><circle cx="485.4" cy="153.4" r="3.25"/><circle cx="491.4" cy="154.6" r="3.25"/><circle cx="497.3" cy="152.3" r="3.25"/><circle cx="503.3" cy="151.1" r="3.25"/><circle cx="505.6" cy="154.6" r="3.25"/><circle cx="511.6" cy="151.1" r="3.25"/><circle cx="218.0" cy="210.0" r="3.25"/><circle cx="224.0" cy="215.0" r="3.25"/><circle cx="233.0" cy="224.0" r="3.25"/><circle cx="234.0" cy="228.0" r="3.25"/><circle cx="244.0" cy="240.0" r="3.25"/><circle cx="249.0" cy="247.0" r="3.25"/><circle cx="256.0" cy="262.0" r="3.25"/><circle cx="257.0" cy="265.0" r="3.25"/><circle cx="260.0" cy="272.0" r="3.25"/><circle cx="357.0" cy="215.0" r="3.25"/><circle cx="353.0" cy="223.0" r="3.25"/><circle cx="349.0" cy="233.0" r="3.25"/><circle cx="338.0" cy="247.0" r="3.25"/><circle cx="345.0" cy="249.0" r="3.25"/><circle cx="331.0" cy="271.0" r="3.25"/><circle cx="268.0" cy="288.0" r="3.25"/><circle cx="270.0" cy="295.0" r="3.25"/><circle cx="274.0" cy="305.0" r="3.25"/><circle cx="278.0" cy="316.0" r="3.25"/><circle cx="280.0" cy="325.0" r="3.25"/><circle cx="283.0" cy="334.0" r="3.25"/><circle cx="284.0" cy="346.0" r="3.25"/><circle cx="286.0" cy="352.0" r="3.25"/><circle cx="321.1" cy="283.6" r="3.25"/><circle cx="320.2" cy="301.1" r="3.25"/><circle cx="316.3" cy="325.4" r="3.25"/><circle cx="310.4" cy="326.4" r="3.25"/><circle cx="307.5" cy="342.0" r="3.25"/><circle cx="306.5" cy="346.8" r="3.25"/><circle cx="287.2" cy="360.8" r="3.25"/><circle cx="288.0" cy="395.5" r="3.25"/><circle cx="306.2" cy="371.8" r="3.25"/><circle cx="302.2" cy="381.3" r="3.25"/></g><g fill="#00ff00"><circle cx="67.0" cy="116.0" r="3.25"/><circle cx="73.0" cy="114.0" r="3.25"/><circle cx="79.0" cy="118.0" r="3.25"/><circle cx="81.0" cy="114.0" r="3.25"/><circle cx="85.0" cy="117.0" r="3.25"/><circle cx="87.0" cy="119.0" r="3.25"/><circle cx="90.0" cy="115.0" r="3.25"/><circle cx="95.0" cy="120.0" r="3.25"/><circle cx="97.0" cy="116.0" r="3.25"/><circle cx="103.0" cy="120.0" r="3.25"/><circle cx="105.0" cy="117.0" r="3.25"/><circle cx="110.0" cy="118.0" r="3.25"/><circle cx="113.0" cy="116.0" r="3.25"/><circle cx="115.0" cy="122.0" r="3.25"/><circle cx="117.0" cy="119.0" r="3.25"/><circle cx="121.0" cy="120.0" r="3.25"/><circle cx="127.0" cy="125.0" r="3.25"/><circle cx="131.0" cy="120.0" r="3.25"/><circle cx="137.0" cy="124.0" r="3.25"/><circle cx="139.0" cy="129.0" r="3.25"/><circle cx="143.0" cy="128.0" r="3.25"/><circle cx="147.0" cy="126.0" r="3.25"/><circle cx="153.0" cy="134.0" r="3.25"/><circle cx="161.0" cy="130.0" r="3.25"/><circle cx="164.0" cy="133.0" r="3.25"/><circle cx="167.0" cy="135.0" r="3.25"/><circle cx="171.0" cy="141.0" r="3.25"/><circle cx="175.0" cy="137.0" r="3.25"/><circle cx="188.0" cy="148.0" r="3.25"/><circle cx="192.0" cy="153.0" r="3.25"/><circle cx="193.0" cy="146.0" r="3.25"/><circle cx="204.0" cy="158.0" r="3.25"/><circle cx="205.0" cy="164.0" r="3.25"/><circle cx="210.0" cy="163.0" r="3.25"/><circle cx="223.0" cy="181.0" r="3.25"/><circle cx="225.0" cy="177.0" r="3.25"/><circle cx="234.0" cy="191.0" r="3.25"/><circle cx="239.0" cy="199.0" r="3.25"/><circle cx="242.0" cy="201.0" r="3.25"/><circle cx="362.0" cy="175.0" r="3.25"/><circle cx="373.0" cy="171.0" r="3.25"/><circle cx="357.0" cy="189.0" r="3.25"/><circle cx="346.0" cy="197.0" r="3.25"/><circle cx="379.0" cy="161.0" r="3.25"/><circle cx="380.0" cy="165.0" r="3.25"/><circle cx="386.0" cy="153.0" r="3.25"/><circle cx="388.0" cy="163.0" r="3.25"/><circle cx="403.0" cy="140.0" r="3.25"/><circle cx="410.0" cy="161.0" r="3.25"/><circle cx="417.0" cy="156.0" r="3.25"/><circle cx="419.0" cy="134.0" r="3.25"/><circle cx="424.0" cy="154.0" r="3.25"/><circle cx="427.0" cy="131.0" r="3.25"/><circle cx="433.0" cy="127.0" r="3.25"/><circle cx="438.0" cy="127.0" r="3.25"/><circle cx="444.0" cy="124.0" r="3.25"/><circle cx="447.0" cy="123.0" r="3.25"/><circle cx="450.0" cy="123.0" r="3.25"/><circle cx="458.0" cy="121.0" r="3.25"/><circle cx="462.0" cy="121.0" r="3.25"/><circle cx="468.0" cy="119.0" r="3.25"/><circle cx="476.0" cy="118.0" r="3.25"/><circle cx="480.0" cy="117.0" r="3.25"/><circle cx="470.0" cy="115.4" r="3.25"/><circle cx="483.1" cy="115.4" r="3.25"/><circle cx="487.8" cy="116.6" r="3.25"/><circle cx="493.8" cy="113.1" r="3.25"/><circle cx="499.7" cy="114.3" r="3.25"/><circle cx="500.9" cy="116.6" r="3.25"/><circle cx="506.8" cy="111.9" r="3.25"/><circle cx="508.0" cy="114.3" r="3.25"/><circle cx="512.8" cy="113.1" r="3.25"/><circle cx="515.1" cy="110.7" r="3.25"/><circle cx="521.1" cy="111.9" r="3.25"/><circle cx="524.6" cy="110.7" r="3.25"/><circle cx="244.0" cy="206.0" r="3.25"/><circle cx="253.0" cy="220.0" r="3.25"/><circle cx="270.0" cy="259.0" r="3.25"/><circle cx="273.0" cy="264.0" r="3.25"/><circle cx="342.0" cy="206.0" r="3.25"/><circle cx="345.0" cy="207.0" r="3.25"/><circle cx="328.0" cy="231.0" r="3.25"/><circle cx="343.0" cy="231.0" r="3.25"/><circle cx="332.0" cy="256.0" r="3.25"/><circle cx="315.0" cy="275.0" r="3.25"/><circle cx="319.0" cy="282.0" r="3.25"/><circle cx="278.0" cy="288.0" r="3.25"/><circle cx="281.0" cy="301.0" r="3.25"/><circle cx="284.0" cy="314.0" r="3.25"/><circle cx="284.0" cy="318.0" r="3.25"/><circle cx="286.0" cy="342.0" r="3.25"/><circle cx="311.4" cy="294.3" r="3.25"/><circle cx="310.4" cy="300.2" r="3.25"/><circle cx="307.5" cy="312.8" r="3.25"/><circle cx="311.4" cy="318.6" r="3.25"/><circle cx="307.5" cy="336.1" r="3.25"/><circle cx="308.5" cy="358.5" r="3.25"/><circle cx="289.6" cy="378.9" r="3.25"/><circle cx="304.6" cy="390.7" r="3.25"/><circle cx="291.0" cy="414.8" r="3.25"/><circle cx="301.0" cy="414.0" r="3.25"/></g><g fill="#0000ff"><circle cx="72.0" cy="70.0" r="3.25"/><circle cx="76.0" cy="72.0" r="3.25"/><circle cx="80.0" cy="70.0" r="3.25"/><circle cx="86.0" cy="72.0" r="3.25"/><circle cx="91.0" cy="71.0" r="3.25"/><circle cx="95.0" cy="73.0" r="3.25"/><circle cx="101.0" cy="72.0" r="3.25"/><circle cx="102.0" cy="75.0" r="3.25"/><circle cx="108.0" cy="76.0" r="3.25"/><circle cx="112.0" cy="73.0" r="3.25"/><circle cx="115.0" cy="76.0" r="3.25"/><circle cx="119.0" cy="74.0" r="3.25"/><circle cx="121.0" cy="77.0" r="3.25"/><circle cx="122.0" cy="80.0" r="3.25"/><circle cx="127.0" cy="79.0" r="3.25"/><circle cx="129.0" cy="82.0" r="3.25"/><circle cx="134.0" cy="77.0" r="3.25"/><circle cx="138.0" cy="84.0" r="3.25"/><circle cx="143.0" cy="83.0" r="3.25"/><circle cx="147.0" cy="86.0" r="3.25"/><circle cx="152.0" cy="83.0" r="3.25"/><circle cx="155.0" cy="87.0" r="3.25"/><circle cx="159.0" cy="89.0" r="3.25"/><circle cx="164.0" cy="92.0" r="3.25"/><circle cx="162.0" cy="90.0" r="3.25"/><circle cx="165.0" cy="88.0" r="3.25"/><circle cx="167.0" cy="93.0" r="3.25"/><circle cx="173.0" cy="94.0" r="3.25"/><circle cx="175.0" cy="96.0" r="3.25"/><circle cx="180.0" cy="100.0" r="3.25"/><circle cx="193.0" cy="110.0" r="3.25"/><circle cx="195.0" cy="106.0" r="3.25"/><circle cx="204.0" cy="115.0" r="3.25"/><circle cx="388.0" cy="111.0" r="3.25"/><circle cx="400.0" cy="110.0" r="3.25"/><circle cx="406.0" cy="99.0" r="3.25"/><circle cx="416.0" cy="97.0" r="3.25"/><circle cx="431.0" cy="92.0" r="3.25"/><circle cx="440.0" cy="84.0" r="3.25"/><circle cx="445.0" cy="85.0" r="3.25"/><circle cx="453.8" cy="79.6" r="3.25"/><circle cx="458.6" cy="81.6" r="3.25"/><circle cx="468.3" cy="76.7" r="3.25"/><circle cx="475.2" cy="75.7" r="3.25"/><circle cx="479.0" cy="74.7" r="3.25"/><circle cx="489.7" cy="75.7" r="3.25"/><circle cx="491.7" cy="70.9" r="3.25"/><circle cx="496.6" cy="71.8" r="3.25"/><circle cx="501.4" cy="70.9" r="3.25"/><circle cx="501.4" cy="74.7" r="3.25"/><circle cx="508.2" cy="69.9" r="3.25"/><circle cx="515.0" cy="71.8" r="3.25"/><circle cx="517.0" cy="69.9" r="3.25"/><circle cx="212.0" cy="127.0" r="3.25"/><circle cx="219.0" cy="128.0" r="3.25"/><circle cx="229.0" cy="144.0" r="3.25"/><circle cx="235.0" cy="150.0" r="3.25"/><circle cx="245.0" cy="164.0" r="3.25"/><circle cx="249.0" cy="172.0" r="3.25"/><circle cx="262.0" cy="202.0" r="3.25"/><circle cx="369.0" cy="131.0" r="3.25"/><circle cx="362.0" cy="147.0" r="3.25"/><circle cx="352.0" cy="152.0" r="3.25"/><circle cx="350.0" cy="163.0" r="3.25"/><circle cx="342.0" cy="178.0" r="3.25"/><circle cx="335.0" cy="180.0" r="3.25"/><circle cx="374.0" cy="125.0" r="3.25"/><circle cx="379.0" cy="127.0" r="3.25"/><circle cx="384.0" cy="121.0" r="3.25"/><circle cx="264.0" cy="207.0" r="3.25"/><circle cx="270.0" cy="220.0" r="3.25"/><circle cx="277.0" cy="247.0" r="3.25"/><circle cx="279.0" cy="259.0" r="3.25"/><circle cx="328.0" cy="212.0" r="3.25"/><circle cx="321.0" cy="218.0" r="3.25"/><circle cx="315.0" cy="241.0" r="3.25"/><circle cx="313.0" cy="261.0" r="3.25"/><circle cx="309.0" cy="272.0" r="3.25"/><circle cx="283.0" cy="285.0" r="3.25"/><circle cx="285.0" cy="308.0" r="3.25"/><circle cx="287.0" cy="335.0" r="3.25"/><circle cx="289.0" cy="354.0" r="3.25"/><circle cx="306.5" cy="306.0" r="3.25"/><circle cx="306.5" cy="308.9" r="3.25"/><circle cx="302.6" cy="355.6" r="3.25"/><circle cx="290.4" cy="376.5" r="3.25"/><circle cx="292.0" cy="397.1" r="3.25"/><circle cx="301.4" cy="360.0" r="3.25"/><circle cx="299.9" cy="395.5" r="3.25"/><circle cx="293.5" cy="415.6" r="3.25"/><circle cx="299.0" cy="415.6" r="3.25"/><circle cx="296.5" cy="416.2" r="3.25"/></g><g fill="#ff00ff"><circle cx="74.0" cy="47.0" r="3.25"/><circle cx="81.0" cy="46.0" r="3.25"/><circle cx="82.0" cy="49.0" r="3.25"/><circle cx="87.0" cy="48.0" r="3.25"/><circle cx="91.0" cy="49.0" r="3.25"/><circle cx="95.0" cy="48.4" r="3.25"/><circle cx="98.0" cy="50.0" r="3.25"/><circle cx="103.0" cy="49.0" r="3.25"/><circle cx="108.0" cy="52.0" r="3.25"/><circle cx="115.0" cy="51.0" r="3.25"/><circle cx="120.0" cy="54.0" r="3.25"/><circle cx="124.0" cy="53.0" r="3.25"/><circle cx="129.0" cy="52.0" r="3.25"/><circle cx="134.0" cy="57.0" r="3.25"/><circle cx="139.0" cy="55.0" r="3.25"/><circle cx="143.0" cy="56.0" r="3.25"/><circle cx="144.0" cy="61.0" r="3.25"/><circle cx="149.0" cy="58.0" r="3.25"/><circle cx="153.0" cy="66.0" r="3.25"/><circle cx="154.0" cy="60.0" r="3.25"/><circle cx="159.0" cy="62.0" r="3.25"/><circle cx="163.0" cy="64.0" r="3.25"/><circle cx="164.0" cy="60.0" r="3.25"/><circle cx="161.0" cy="60.0" r="3.25"/><circle cx="166.0" cy="65.0" r="3.25"/><circle cx="171.0" cy="64.0" r="3.25"/><circle cx="169.0" cy="72.4" r="3.25"/><circle cx="178.0" cy="71.6" r="3.25"/><circle cx="181.6" cy="78.0" r="3.25"/><circle cx="185.6" cy="77.0" r="3.25"/><circle cx="187.6" cy="83.6" r="3.25"/><circle cx="201.0" cy="87.0" r="3.25"/><circle cx="202.0" cy="95.0" r="3.25"/><circle cx="217.0" cy="105.0" r="3.25"/><circle cx="219.0" cy="110.0" r="3.25"/><circle cx="226.4" cy="116.4" r="3.25"/><circle cx="365.0" cy="114.0" r="3.25"/><circle cx="371.0" cy="112.0" r="3.25"/><circle cx="375.0" cy="105.0" r="3.25"/><circle cx="376.0" cy="109.0" r="3.25"/><circle cx="388.0" cy="91.0" r="3.25"/><circle cx="393.0" cy="94.0" r="3.25"/><circle cx="402.0" cy="80.0" r="3.25"/><circle cx="412.0" cy="79.0" r="3.25"/><circle cx="416.0" cy="73.0" r="3.25"/><circle cx="419.0" cy="72.0" r="3.25"/><circle cx="422.0" cy="71.0" r="3.25"/><circle cx="428.0" cy="70.0" r="3.25"/><circle cx="429.0" cy="66.0" r="3.25"/><circle cx="439.0" cy="65.0" r="3.25"/><circle cx="442.0" cy="61.0" r="3.25"/><circle cx="446.9" cy="57.2" r="3.25"/><circle cx="451.8" cy="61.1" r="3.25"/><circle cx="456.7" cy="57.2" r="3.25"/><circle cx="461.5" cy="58.2" r="3.25"/><circle cx="466.4" cy="55.3" r="3.25"/><circle cx="472.2" cy="55.3" r="3.25"/><circle cx="476.1" cy="53.3" r="3.25"/><circle cx="481.0" cy="54.3" r="3.25"/><circle cx="485.9" cy="51.4" r="3.25"/><circle cx="490.7" cy="52.4" r="3.25"/><circle cx="495.6" cy="50.4" r="3.25"/><circle cx="500.4" cy="49.5" r="3.25"/><circle cx="504.3" cy="51.4" r="3.25"/><circle cx="509.2" cy="47.5" r="3.25"/><circle cx="514.1" cy="49.5" r="3.25"/><circle cx="518.9" cy="48.5" r="3.25"/><circle cx="228.0" cy="121.0" r="3.25"/><circle cx="236.0" cy="131.0" r="3.25"/><circle cx="242.0" cy="139.0" r="3.25"/><circle cx="252.0" cy="156.0" r="3.25"/><circle cx="253.0" cy="164.0" r="3.25"/><circle cx="257.0" cy="171.0" r="3.25"/><circle cx="264.0" cy="184.0" r="3.25"/><circle cx="350.0" cy="135.0" r="3.25"/><circle cx="357.0" cy="131.0" r="3.25"/><circle cx="343.0" cy="157.0" r="3.25"/><circle cx="339.0" cy="163.0" r="3.25"/><circle cx="334.0" cy="167.0" r="3.25"/><circle cx="320.0" cy="203.0" r="3.25"/><circle cx="327.0" cy="201.0" r="3.25"/><circle cx="272.0" cy="209.0" r="3.25"/><circle cx="274.0" cy="219.0" r="3.25"/><circle cx="278.0" cy="239.0" r="3.25"/><circle cx="280.0" cy="253.0" r="3.25"/><circle cx="281.0" cy="260.0" r="3.25"/><circle cx="282.0" cy="265.0" r="3.25"/><circle cx="313.0" cy="245.0" r="3.25"/><circle cx="312.0" cy="250.0" r="3.25"/><circle cx="311.0" cy="257.0" r="3.25"/><circle cx="310.0" cy="266.0" r="3.25"/><circle cx="284.0" cy="291.0" r="3.25"/><circle cx="285.0" cy="305.0" r="3.25"/><circle cx="288.0" cy="346.0" r="3.25"/><circle cx="290.0" cy="358.0" r="3.25"/><circle cx="307.5" cy="285.6" r="3.25"/><circle cx="306.5" cy="301.1" r="3.25"/><circle cx="302.6" cy="343.9" r="3.25"/><circle cx="303.6" cy="356.6" r="3.25"/><circle cx="291.2" cy="383.6" r="3.25"/><circle cx="291.2" cy="389.2" r="3.25"/><circle cx="292.8" cy="401.0" r="3.25"/><circle cx="293.5" cy="408.1" r="3.25"/><circle cx="295.1" cy="411.2" r="3.25"/><circle cx="302.2" cy="346.6" r="3.25"/><circle cx="300.6" cy="383.6" r="3.25"/><circle cx="300.6" cy="390.7" r="3.25"/><circle cx="299.9" cy="403.4" r="3.25"/><circle cx="298.3" cy="409.7" r="3.25"/><circle cx="296.7" cy="414.4" r="3.25"/><circle cx="299.9" cy="412.8" r="3.25"/></g>
<rect x="361.4" y="264.6" width="150.4" height="116.6" fill="#fff" stroke="#c4c4c4" stroke-width="1"/><path d="M371,278.4 H416" stroke="#000000" stroke-width="2.3"/><text x="421" y="285.9" font-family="DejaVu Sans, sans-serif" font-size="14" fill="#000">σ</text><text x="434.9" y="284.2" font-family="Liberation Sans, Arial, sans-serif" font-size="14.5" fill="#000">=</text><text x="449.2" y="284.2" font-family="Liberation Sans, Arial, sans-serif" font-size="14.5" fill="#000">0 MPa</text><path d="M371,300.2 H416" stroke="#ff0000" stroke-width="2.3"/><text x="421" y="307.7" font-family="DejaVu Sans, sans-serif" font-size="14" fill="#000">σ</text><text x="434.9" y="306.0" font-family="Liberation Sans, Arial, sans-serif" font-size="14.5" fill="#000">=</text><text x="449.2" y="306.0" font-family="Liberation Sans, Arial, sans-serif" font-size="14.5" fill="#000">-5 MPa</text><path d="M371,322.4 H416" stroke="#00ff00" stroke-width="2.3"/><text x="421" y="329.9" font-family="DejaVu Sans, sans-serif" font-size="14" fill="#000">σ</text><text x="434.9" y="328.2" font-family="Liberation Sans, Arial, sans-serif" font-size="14.5" fill="#000">=</text><text x="449.2" y="328.2" font-family="Liberation Sans, Arial, sans-serif" font-size="14.5" fill="#000">-10 MPa</text><path d="M371,345.0 H416" stroke="#0000ff" stroke-width="2.3"/><text x="421" y="352.5" font-family="DejaVu Sans, sans-serif" font-size="14" fill="#000">σ</text><text x="434.9" y="350.8" font-family="Liberation Sans, Arial, sans-serif" font-size="14.5" fill="#000">=</text><text x="449.2" y="350.8" font-family="Liberation Sans, Arial, sans-serif" font-size="14.5" fill="#000">-15 MPa</text><path d="M371,366.6 H416" stroke="#ff00ff" stroke-width="2.3"/><text x="421" y="374.1" font-family="DejaVu Sans, sans-serif" font-size="14" fill="#000">σ</text><text x="434.9" y="372.4" font-family="Liberation Sans, Arial, sans-serif" font-size="14.5" fill="#000">=</text><text x="449.2" y="372.4" font-family="Liberation Sans, Arial, sans-serif" font-size="14.5" fill="#000">-20 MPa</text>
<text x="47.70" y="432.4" text-anchor="middle" letter-spacing="-0.6" font-family="Liberation Sans, Arial, sans-serif" font-size="15" fill="#000">-8</text><text x="109.10" y="432.4" text-anchor="middle" letter-spacing="-0.6" font-family="Liberation Sans, Arial, sans-serif" font-size="15" fill="#000">-6</text><text x="170.50" y="432.4" text-anchor="middle" letter-spacing="-0.6" font-family="Liberation Sans, Arial, sans-serif" font-size="15" fill="#000">-4</text><text x="231.40" y="432.4" text-anchor="middle" letter-spacing="-0.6" font-family="Liberation Sans, Arial, sans-serif" font-size="15" fill="#000">-2</text><text x="296.50" y="432.4" text-anchor="middle" font-family="Liberation Sans, Arial, sans-serif" font-size="15" fill="#000">0</text><text x="358.40" y="432.4" text-anchor="middle" font-family="Liberation Sans, Arial, sans-serif" font-size="15" fill="#000">2</text><text x="419.60" y="432.4" text-anchor="middle" font-family="Liberation Sans, Arial, sans-serif" font-size="15" fill="#000">4</text><text x="480.70" y="432.4" text-anchor="middle" font-family="Liberation Sans, Arial, sans-serif" font-size="15" fill="#000">6</text><text x="543.20" y="432.4" text-anchor="middle" font-family="Liberation Sans, Arial, sans-serif" font-size="15" fill="#000">8</text><text x="45.5" y="419.40" text-anchor="end" font-family="Liberation Sans, Arial, sans-serif" font-size="14.5" fill="#000">0</text><text x="45.5" y="376.33" text-anchor="end" font-family="Liberation Sans, Arial, sans-serif" font-size="14.5" fill="#000">0.2</text><text x="45.5" y="333.26" text-anchor="end" font-family="Liberation Sans, Arial, sans-serif" font-size="14.5" fill="#000">0.4</text><text x="45.5" y="290.19" text-anchor="end" font-family="Liberation Sans, Arial, sans-serif" font-size="14.5" fill="#000">0.6</text><text x="45.5" y="247.12" text-anchor="end" font-family="Liberation Sans, Arial, sans-serif" font-size="14.5" fill="#000">0.8</text><text x="45.5" y="204.05" text-anchor="end" font-family="Liberation Sans, Arial, sans-serif" font-size="14.5" fill="#000">1</text><text x="45.5" y="160.98" text-anchor="end" font-family="Liberation Sans, Arial, sans-serif" font-size="14.5" fill="#000">1.2</text><text x="45.5" y="117.91" text-anchor="end" font-family="Liberation Sans, Arial, sans-serif" font-size="14.5" fill="#000">1.4</text><text x="45.5" y="74.84" text-anchor="end" font-family="Liberation Sans, Arial, sans-serif" font-size="14.5" fill="#000">1.6</text><text x="45.5" y="31.77" text-anchor="end" font-family="Liberation Sans, Arial, sans-serif" font-size="14.5" fill="#000">1.8</text><text x="49.6" y="19.3" font-family="Liberation Sans, Arial, sans-serif" font-size="14.5" fill="#000">x</text><text x="62.4" y="19.3" font-family="Liberation Sans, Arial, sans-serif" font-size="14.5" fill="#000">10</text><text x="77.6" y="10.2" font-family="Liberation Sans, Arial, sans-serif" fill="#000" font-size="9.5">-3</text><text x="507.7" y="459.3" font-family="Liberation Sans, Arial, sans-serif" font-size="14.5" fill="#000">x</text><text x="520.7" y="459.3" font-family="Liberation Sans, Arial, sans-serif" font-size="14.5" fill="#000">10</text><text x="536.3" y="450" font-family="Liberation Sans, Arial, sans-serif" fill="#000" font-size="9.5">5</text><text x="294.6" y="451.6" text-anchor="middle" font-family="Liberation Sans, Arial, sans-serif" font-size="15" fill="#000">H(A/m)</text><text transform="translate(14.3,223.2) rotate(-90)" text-anchor="middle" font-family="Liberation Serif, serif" font-size="16.5" fill="#000" stroke="#000" stroke-width="0.35">λ</text>
</svg>
</body></html>
